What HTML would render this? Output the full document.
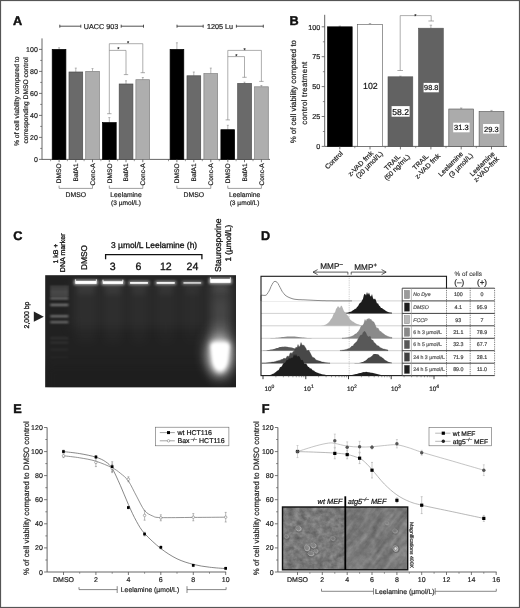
<!DOCTYPE html>
<html><head><meta charset="utf-8"><title>Figure</title>
<style>
html,body{margin:0;padding:0;background:#fff;}
body{width:520px;height:608px;overflow:hidden;}
svg{display:block;font-family:"Liberation Sans",sans-serif;text-rendering:geometricPrecision;}
</style></head><body>
<svg width="520" height="608" viewBox="0 0 520 608">
<defs>
<filter color-interpolation-filters="sRGB" id="b1" x="-20%" y="-100%" width="140%" height="300%"><feGaussianBlur color-interpolation-filters="sRGB" stdDeviation="0.7"/></filter>
<filter color-interpolation-filters="sRGB" id="b2" x="-50%" y="-50%" width="200%" height="200%"><feGaussianBlur color-interpolation-filters="sRGB" stdDeviation="2.5"/></filter>
<filter color-interpolation-filters="sRGB" id="b3" x="-50%" y="-50%" width="200%" height="200%"><feGaussianBlur color-interpolation-filters="sRGB" stdDeviation="5"/></filter>
<filter color-interpolation-filters="sRGB" id="b05" x="-20%" y="-100%" width="140%" height="300%"><feGaussianBlur color-interpolation-filters="sRGB" stdDeviation="0.45"/></filter>
<filter color-interpolation-filters="sRGB" id="b15" x="-30%" y="-300%" width="160%" height="700%"><feGaussianBlur color-interpolation-filters="sRGB" stdDeviation="1.5"/></filter>
<filter color-interpolation-filters="sRGB" id="b09" x="-20%" y="-200%" width="140%" height="500%"><feGaussianBlur color-interpolation-filters="sRGB" stdDeviation="0.9 0.8"/></filter>
<filter color-interpolation-filters="sRGB" id="b7" x="-100%" y="-100%" width="300%" height="300%"><feGaussianBlur color-interpolation-filters="sRGB" stdDeviation="7"/></filter>
<filter color-interpolation-filters="sRGB" id="soft" x="0" y="0" width="100%" height="100%"><feGaussianBlur color-interpolation-filters="sRGB" stdDeviation="0.35"/></filter>
<filter color-interpolation-filters="sRGB" id="tex" x="0" y="0" width="100%" height="100%">
<feTurbulence type="fractalNoise" baseFrequency="0.17 0.19" numOctaves="3" seed="4" result="n"/>
<feColorMatrix in="n" type="matrix" values="0.24 0.16 0 0 0.275  0.24 0.16 0 0 0.275  0.24 0.16 0 0 0.275  0 0 0 0 1"/>
<feComposite in2="SourceGraphic" operator="in"/>
</filter>
<filter color-interpolation-filters="sRGB" id="tex2" x="0" y="0" width="100%" height="100%">
<feTurbulence type="fractalNoise" baseFrequency="0.022 0.16" numOctaves="3" seed="11" result="n"/>
<feColorMatrix in="n" type="matrix" values="0.4 0.25 0 0 0.15  0.4 0.25 0 0 0.15  0.4 0.25 0 0 0.15  0 0 0 0 1"/>
<feComposite in2="SourceGraphic" operator="in"/>
</filter>
<clipPath id="insL"><rect x="282.5" y="507" width="62.7" height="62.8"/></clipPath>
<clipPath id="insR"><rect x="345.2" y="507" width="62.5" height="62.8"/></clipPath>
<clipPath id="gelclip"><rect x="45" y="275" width="191" height="112.5"/></clipPath>
<clipPath id="insclip"><rect x="282.5" y="507" width="125.2" height="62.8"/></clipPath>
</defs>
<rect x="0" y="0" width="520" height="608" fill="#fff"/>
<g filter="url(#soft)">
<text x="13.1" y="25.0" font-size="12.7" text-anchor="start" fill="#111" font-weight="bold" stroke="#111" stroke-width="0.45">A</text>
<line x1="42.0" y1="38.4" x2="42.0" y2="159.4" stroke="#555" stroke-width="0.9" />
<line x1="39.0" y1="159.4" x2="42.0" y2="159.4" stroke="#555" stroke-width="0.8" />
<text x="37.8" y="161.9" font-size="7" text-anchor="end" fill="#222" stroke="#222" stroke-width="0.2">0</text>
<line x1="39.0" y1="137.4" x2="42.0" y2="137.4" stroke="#555" stroke-width="0.8" />
<text x="37.8" y="139.9" font-size="7" text-anchor="end" fill="#222" stroke="#222" stroke-width="0.2">20</text>
<line x1="39.0" y1="115.4" x2="42.0" y2="115.4" stroke="#555" stroke-width="0.8" />
<text x="37.8" y="117.9" font-size="7" text-anchor="end" fill="#222" stroke="#222" stroke-width="0.2">40</text>
<line x1="39.0" y1="93.4" x2="42.0" y2="93.4" stroke="#555" stroke-width="0.8" />
<text x="37.8" y="95.9" font-size="7" text-anchor="end" fill="#222" stroke="#222" stroke-width="0.2">60</text>
<line x1="39.0" y1="71.4" x2="42.0" y2="71.4" stroke="#555" stroke-width="0.8" />
<text x="37.8" y="73.9" font-size="7" text-anchor="end" fill="#222" stroke="#222" stroke-width="0.2">80</text>
<line x1="39.0" y1="49.4" x2="42.0" y2="49.4" stroke="#555" stroke-width="0.8" />
<text x="37.8" y="51.9" font-size="7" text-anchor="end" fill="#222" stroke="#222" stroke-width="0.2">100</text>
<line x1="40.2" y1="148.4" x2="42.0" y2="148.4" stroke="#555" stroke-width="0.7" />
<line x1="40.2" y1="126.4" x2="42.0" y2="126.4" stroke="#555" stroke-width="0.7" />
<line x1="40.2" y1="104.4" x2="42.0" y2="104.4" stroke="#555" stroke-width="0.7" />
<line x1="40.2" y1="82.4" x2="42.0" y2="82.4" stroke="#555" stroke-width="0.7" />
<line x1="40.2" y1="60.4" x2="42.0" y2="60.4" stroke="#555" stroke-width="0.7" />
<line x1="42.0" y1="159.4" x2="270.0" y2="159.4" stroke="#555" stroke-width="0.9" />
<text x="18.7" y="101.3" font-size="6.8" text-anchor="middle" fill="#222" transform="rotate(-90 18.7 101.3)" stroke="#222" stroke-width="0.2">% of cell viability compared to</text>
<text x="27.5" y="100.5" font-size="6.7" text-anchor="middle" fill="#222" transform="rotate(-90 27.5 100.5)" stroke="#222" stroke-width="0.2">corresponding DMSO control</text>
<line x1="59.1" y1="49.4" x2="59.1" y2="47.8" stroke="#888" stroke-width="0.6" />
<line x1="58.1" y1="47.8" x2="60.1" y2="47.8" stroke="#888" stroke-width="0.6" />
<rect x="52.2" y="49.4" width="13.7" height="110.0" fill="#000" stroke="#000" stroke-width="0.7" />
<line x1="59.1" y1="159.4" x2="59.1" y2="162.2" stroke="#555" stroke-width="0.8" />
<text x="61.5" y="163.4" font-size="6.6" text-anchor="end" fill="#222" transform="rotate(-90 61.5 163.4)" stroke="#222" stroke-width="0.2">DMSO</text>
<line x1="75.8" y1="72.0" x2="75.8" y2="68.1" stroke="#888" stroke-width="0.6" />
<line x1="74.8" y1="68.1" x2="76.8" y2="68.1" stroke="#888" stroke-width="0.6" />
<rect x="69.0" y="72.0" width="13.7" height="87.5" fill="#6a6a6a" stroke="#4a4a4a" stroke-width="0.7" />
<line x1="75.8" y1="159.4" x2="75.8" y2="162.2" stroke="#555" stroke-width="0.8" />
<text x="78.2" y="163.4" font-size="6.6" text-anchor="end" fill="#222" transform="rotate(-90 78.2 163.4)" stroke="#222" stroke-width="0.2">BafA1</text>
<line x1="92.5" y1="71.4" x2="92.5" y2="68.6" stroke="#888" stroke-width="0.6" />
<line x1="91.5" y1="68.6" x2="93.5" y2="68.6" stroke="#888" stroke-width="0.6" />
<rect x="85.7" y="71.4" width="13.7" height="88.0" fill="#aeaeae" stroke="#808080" stroke-width="0.7" />
<line x1="92.5" y1="159.4" x2="92.5" y2="162.2" stroke="#555" stroke-width="0.8" />
<text x="95.0" y="163.4" font-size="6.6" text-anchor="end" fill="#222" transform="rotate(-90 95.0 163.4)" stroke="#222" stroke-width="0.2">Conc-A</text>
<line x1="109.3" y1="122.6" x2="109.3" y2="117.6" stroke="#888" stroke-width="0.6" />
<line x1="108.3" y1="117.6" x2="110.3" y2="117.6" stroke="#888" stroke-width="0.6" />
<rect x="102.5" y="122.6" width="13.7" height="36.8" fill="#000" stroke="#000" stroke-width="0.7" />
<line x1="109.3" y1="159.4" x2="109.3" y2="162.2" stroke="#555" stroke-width="0.8" />
<text x="111.7" y="163.4" font-size="6.6" text-anchor="end" fill="#222" transform="rotate(-90 111.7 163.4)" stroke="#222" stroke-width="0.2">DMSO</text>
<line x1="126.0" y1="84.0" x2="126.0" y2="80.8" stroke="#888" stroke-width="0.6" />
<line x1="125.0" y1="80.8" x2="127.0" y2="80.8" stroke="#888" stroke-width="0.6" />
<rect x="119.2" y="84.0" width="13.7" height="75.4" fill="#6a6a6a" stroke="#4a4a4a" stroke-width="0.7" />
<line x1="126.0" y1="159.4" x2="126.0" y2="162.2" stroke="#555" stroke-width="0.8" />
<text x="128.4" y="163.4" font-size="6.6" text-anchor="end" fill="#222" transform="rotate(-90 128.4 163.4)" stroke="#222" stroke-width="0.2">BafA1</text>
<line x1="142.8" y1="79.7" x2="142.8" y2="77.5" stroke="#888" stroke-width="0.6" />
<line x1="141.8" y1="77.5" x2="143.8" y2="77.5" stroke="#888" stroke-width="0.6" />
<rect x="135.9" y="79.7" width="13.7" height="79.8" fill="#aeaeae" stroke="#808080" stroke-width="0.7" />
<line x1="142.8" y1="159.4" x2="142.8" y2="162.2" stroke="#555" stroke-width="0.8" />
<text x="145.2" y="163.4" font-size="6.6" text-anchor="end" fill="#222" transform="rotate(-90 145.2 163.4)" stroke="#222" stroke-width="0.2">Conc-A</text>
<line x1="50.6" y1="159.4" x2="50.6" y2="161.2" stroke="#555" stroke-width="0.6" />
<line x1="67.4" y1="159.4" x2="67.4" y2="161.2" stroke="#555" stroke-width="0.6" />
<line x1="84.1" y1="159.4" x2="84.1" y2="161.2" stroke="#555" stroke-width="0.6" />
<line x1="100.9" y1="159.4" x2="100.9" y2="161.2" stroke="#555" stroke-width="0.6" />
<line x1="117.6" y1="159.4" x2="117.6" y2="161.2" stroke="#555" stroke-width="0.6" />
<line x1="134.3" y1="159.4" x2="134.3" y2="161.2" stroke="#555" stroke-width="0.6" />
<path d="M59.1 185.6 V188.4 H92.5 V185.6" stroke="#777" stroke-width="0.7" fill="none" />
<path d="M109.3 185.6 V188.4 H142.8 V185.6" stroke="#777" stroke-width="0.7" fill="none" />
<text x="75.8" y="197.0" font-size="6.8" text-anchor="middle" fill="#222" stroke="#222" stroke-width="0.2">DMSO</text>
<text x="126.0" y="197.0" font-size="6.8" text-anchor="middle" fill="#222" stroke="#222" stroke-width="0.2">Leelamine</text>
<text x="126.0" y="205.3" font-size="6.6" text-anchor="middle" fill="#222" stroke="#222" stroke-width="0.2">(3 µmol/L)</text>
<line x1="176.9" y1="49.4" x2="176.9" y2="42.8" stroke="#888" stroke-width="0.6" />
<line x1="175.9" y1="42.8" x2="177.9" y2="42.8" stroke="#888" stroke-width="0.6" />
<rect x="170.1" y="49.4" width="13.7" height="110.0" fill="#000" stroke="#000" stroke-width="0.7" />
<line x1="176.9" y1="159.4" x2="176.9" y2="162.2" stroke="#555" stroke-width="0.8" />
<text x="179.3" y="163.4" font-size="6.6" text-anchor="end" fill="#222" transform="rotate(-90 179.3 163.4)" stroke="#222" stroke-width="0.2">DMSO</text>
<line x1="193.8" y1="75.8" x2="193.8" y2="72.0" stroke="#888" stroke-width="0.6" />
<line x1="192.8" y1="72.0" x2="194.8" y2="72.0" stroke="#888" stroke-width="0.6" />
<rect x="187.0" y="75.8" width="13.7" height="83.6" fill="#6a6a6a" stroke="#4a4a4a" stroke-width="0.7" />
<line x1="193.8" y1="159.4" x2="193.8" y2="162.2" stroke="#555" stroke-width="0.8" />
<text x="196.2" y="163.4" font-size="6.6" text-anchor="end" fill="#222" transform="rotate(-90 196.2 163.4)" stroke="#222" stroke-width="0.2">BafA1</text>
<line x1="210.8" y1="73.6" x2="210.8" y2="68.1" stroke="#888" stroke-width="0.6" />
<line x1="209.8" y1="68.1" x2="211.8" y2="68.1" stroke="#888" stroke-width="0.6" />
<rect x="203.9" y="73.6" width="13.7" height="85.8" fill="#aeaeae" stroke="#808080" stroke-width="0.7" />
<line x1="210.8" y1="159.4" x2="210.8" y2="162.2" stroke="#555" stroke-width="0.8" />
<text x="213.2" y="163.4" font-size="6.6" text-anchor="end" fill="#222" transform="rotate(-90 213.2 163.4)" stroke="#222" stroke-width="0.2">Conc-A</text>
<line x1="227.8" y1="129.7" x2="227.8" y2="125.3" stroke="#888" stroke-width="0.6" />
<line x1="226.8" y1="125.3" x2="228.8" y2="125.3" stroke="#888" stroke-width="0.6" />
<rect x="220.9" y="129.7" width="13.7" height="29.7" fill="#000" stroke="#000" stroke-width="0.7" />
<line x1="227.8" y1="159.4" x2="227.8" y2="162.2" stroke="#555" stroke-width="0.8" />
<text x="230.2" y="163.4" font-size="6.6" text-anchor="end" fill="#222" transform="rotate(-90 230.2 163.4)" stroke="#222" stroke-width="0.2">DMSO</text>
<line x1="244.5" y1="83.5" x2="244.5" y2="82.2" stroke="#888" stroke-width="0.6" />
<line x1="243.5" y1="82.2" x2="245.5" y2="82.2" stroke="#888" stroke-width="0.6" />
<rect x="237.7" y="83.5" width="13.7" height="75.9" fill="#6a6a6a" stroke="#4a4a4a" stroke-width="0.7" />
<line x1="244.5" y1="159.4" x2="244.5" y2="162.2" stroke="#555" stroke-width="0.8" />
<text x="246.9" y="163.4" font-size="6.6" text-anchor="end" fill="#222" transform="rotate(-90 246.9 163.4)" stroke="#222" stroke-width="0.2">BafA1</text>
<line x1="261.4" y1="86.8" x2="261.4" y2="85.5" stroke="#888" stroke-width="0.6" />
<line x1="260.4" y1="85.5" x2="262.4" y2="85.5" stroke="#888" stroke-width="0.6" />
<rect x="254.6" y="86.8" width="13.7" height="72.6" fill="#aeaeae" stroke="#808080" stroke-width="0.7" />
<line x1="261.4" y1="159.4" x2="261.4" y2="162.2" stroke="#555" stroke-width="0.8" />
<text x="263.8" y="163.4" font-size="6.6" text-anchor="end" fill="#222" transform="rotate(-90 263.8 163.4)" stroke="#222" stroke-width="0.2">Conc-A</text>
<line x1="168.5" y1="159.4" x2="168.5" y2="161.2" stroke="#555" stroke-width="0.6" />
<line x1="185.4" y1="159.4" x2="185.4" y2="161.2" stroke="#555" stroke-width="0.6" />
<line x1="202.3" y1="159.4" x2="202.3" y2="161.2" stroke="#555" stroke-width="0.6" />
<line x1="219.3" y1="159.4" x2="219.3" y2="161.2" stroke="#555" stroke-width="0.6" />
<line x1="236.1" y1="159.4" x2="236.1" y2="161.2" stroke="#555" stroke-width="0.6" />
<line x1="253.0" y1="159.4" x2="253.0" y2="161.2" stroke="#555" stroke-width="0.6" />
<path d="M176.9 185.6 V188.4 H210.8 V185.6" stroke="#777" stroke-width="0.7" fill="none" />
<path d="M227.8 185.6 V188.4 H261.4 V185.6" stroke="#777" stroke-width="0.7" fill="none" />
<text x="193.8" y="197.0" font-size="6.8" text-anchor="middle" fill="#222" stroke="#222" stroke-width="0.2">DMSO</text>
<text x="244.6" y="197.0" font-size="6.8" text-anchor="middle" fill="#222" stroke="#222" stroke-width="0.2">Leelamine</text>
<text x="244.6" y="205.3" font-size="6.6" text-anchor="middle" fill="#222" stroke="#222" stroke-width="0.2">(3 µmol/L)</text>
<path d="M109.3 113.7 V43.7 H142.8 V72.7" stroke="#777" stroke-width="0.6" fill="none" />
<line x1="107.1" y1="113.7" x2="111.5" y2="113.7" stroke="#777" stroke-width="0.6" />
<line x1="140.6" y1="72.7" x2="145.0" y2="72.7" stroke="#777" stroke-width="0.6" />
<path d="M109.3 50.4 H126.0 V74.6" stroke="#777" stroke-width="0.6" fill="none" />
<line x1="123.8" y1="74.6" x2="128.2" y2="74.6" stroke="#777" stroke-width="0.6" />
<text x="118.4" y="51.4" font-size="5.6" text-anchor="middle" fill="#222" stroke="#222" stroke-width="0.2">*</text>
<text x="128.0" y="44.8" font-size="5.6" text-anchor="middle" fill="#222" stroke="#222" stroke-width="0.2">*</text>
<path d="M227.8 119.9 V50.4 H261.4 V81.4" stroke="#777" stroke-width="0.6" fill="none" />
<line x1="225.6" y1="119.9" x2="229.9" y2="119.9" stroke="#777" stroke-width="0.6" />
<line x1="259.2" y1="81.4" x2="263.6" y2="81.4" stroke="#777" stroke-width="0.6" />
<path d="M227.8 56.6 H244.5 V77.3" stroke="#777" stroke-width="0.6" fill="none" />
<line x1="242.3" y1="77.3" x2="246.7" y2="77.3" stroke="#777" stroke-width="0.6" />
<text x="236.4" y="57.6" font-size="5.6" text-anchor="middle" fill="#222" stroke="#222" stroke-width="0.2">*</text>
<text x="244.6" y="51.6" font-size="5.6" text-anchor="middle" fill="#222" stroke="#222" stroke-width="0.2">*</text>
<path d="M59.8 24.7 V27.7 M59.8 26.2 H80.8 M80.8 24.7 V27.7" stroke="#333" stroke-width="0.85" fill="none" />
<path d="M121.2 24.7 V27.7 M121.2 26.2 H143.5 M143.5 24.7 V27.7" stroke="#333" stroke-width="0.85" fill="none" />
<text x="101.0" y="28.7" font-size="7.2" text-anchor="middle" fill="#222" stroke="#222" stroke-width="0.2">UACC 903</text>
<path d="M177 24.7 V27.7 M177 26.2 H203.2 M203.2 24.7 V27.7" stroke="#333" stroke-width="0.85" fill="none" />
<path d="M236.4 24.7 V27.7 M236.4 26.2 H263.3 M263.3 24.7 V27.7" stroke="#333" stroke-width="0.85" fill="none" />
<text x="220.0" y="28.7" font-size="7.2" text-anchor="middle" fill="#222" stroke="#222" stroke-width="0.2">1205 Lu</text>
<text x="289.6" y="24.8" font-size="12.7" text-anchor="start" fill="#111" font-weight="bold" stroke="#111" stroke-width="0.45">B</text>
<line x1="324.7" y1="14.8" x2="324.7" y2="146.4" stroke="#555" stroke-width="0.9" />
<line x1="321.7" y1="146.4" x2="324.7" y2="146.4" stroke="#555" stroke-width="0.8" />
<text x="320.2" y="149.1" font-size="7.2" text-anchor="end" fill="#222" stroke="#222" stroke-width="0.2">0</text>
<line x1="321.7" y1="116.5" x2="324.7" y2="116.5" stroke="#555" stroke-width="0.8" />
<text x="320.2" y="119.2" font-size="7.2" text-anchor="end" fill="#222" stroke="#222" stroke-width="0.2">25</text>
<line x1="321.7" y1="86.6" x2="324.7" y2="86.6" stroke="#555" stroke-width="0.8" />
<text x="320.2" y="89.3" font-size="7.2" text-anchor="end" fill="#222" stroke="#222" stroke-width="0.2">50</text>
<line x1="321.7" y1="56.7" x2="324.7" y2="56.7" stroke="#555" stroke-width="0.8" />
<text x="320.2" y="59.4" font-size="7.2" text-anchor="end" fill="#222" stroke="#222" stroke-width="0.2">75</text>
<line x1="321.7" y1="26.8" x2="324.7" y2="26.8" stroke="#555" stroke-width="0.8" />
<text x="320.2" y="29.5" font-size="7.2" text-anchor="end" fill="#222" stroke="#222" stroke-width="0.2">100</text>
<line x1="322.9" y1="131.5" x2="324.7" y2="131.5" stroke="#555" stroke-width="0.7" />
<line x1="322.9" y1="101.6" x2="324.7" y2="101.6" stroke="#555" stroke-width="0.7" />
<line x1="322.9" y1="71.7" x2="324.7" y2="71.7" stroke="#555" stroke-width="0.7" />
<line x1="322.9" y1="41.8" x2="324.7" y2="41.8" stroke="#555" stroke-width="0.7" />
<line x1="324.7" y1="146.4" x2="507.0" y2="146.4" stroke="#555" stroke-width="0.9" />
<text x="296.4" y="91.7" font-size="7.85" text-anchor="middle" fill="#222" transform="rotate(-90 296.4 91.7)" stroke="#222" stroke-width="0.2">% of cell viability compared to</text>
<text x="307.0" y="93.1" font-size="7.85" text-anchor="middle" fill="#222" transform="rotate(-90 307.0 93.1)" letter-spacing="0.25" stroke="#222" stroke-width="0.2">control treatment</text>
<line x1="339.8" y1="26.8" x2="339.8" y2="26.1" stroke="#888" stroke-width="0.6" />
<line x1="338.6" y1="26.1" x2="341.0" y2="26.1" stroke="#888" stroke-width="0.6" />
<rect x="327.4" y="26.8" width="24.8" height="119.6" fill="#000" stroke="#000" stroke-width="0.6" />
<line x1="339.8" y1="146.4" x2="339.8" y2="149.4" stroke="#555" stroke-width="0.8" />
<text x="343.4" y="153.9" font-size="6.9" text-anchor="end" fill="#222" transform="rotate(-45 343.4 153.9)" stroke="#222" stroke-width="0.2">Control</text>
<line x1="370.0" y1="24.4" x2="370.0" y2="23.5" stroke="#888" stroke-width="0.6" />
<line x1="368.8" y1="23.5" x2="371.2" y2="23.5" stroke="#888" stroke-width="0.6" />
<rect x="357.6" y="24.4" width="24.8" height="122.0" fill="#fff" stroke="#555" stroke-width="0.6" />
<line x1="370.0" y1="146.4" x2="370.0" y2="149.4" stroke="#555" stroke-width="0.8" />
<text x="373.6" y="153.9" font-size="6.9" text-anchor="end" fill="#222" transform="rotate(-45 373.6 153.9)" stroke="#222" stroke-width="0.2">z-VAD fmk</text>
<text x="383.3" y="154.0" font-size="6.9" text-anchor="end" fill="#222" transform="rotate(-45 383.3 154.0)" stroke="#222" stroke-width="0.2">(20 µmol/L)</text>
<line x1="354.8" y1="146.4" x2="354.8" y2="148.2" stroke="#555" stroke-width="0.6" />
<line x1="400.4" y1="76.8" x2="400.4" y2="76.2" stroke="#888" stroke-width="0.6" />
<line x1="399.2" y1="76.2" x2="401.6" y2="76.2" stroke="#888" stroke-width="0.6" />
<rect x="388.0" y="76.8" width="24.8" height="69.6" fill="#626262" stroke="#555" stroke-width="0.6" />
<line x1="400.4" y1="146.4" x2="400.4" y2="149.4" stroke="#555" stroke-width="0.8" />
<text x="400.8" y="157.1" font-size="6.9" text-anchor="end" fill="#222" transform="rotate(-45 400.8 157.1)" stroke="#222" stroke-width="0.2">TRAIL</text>
<text x="410.5" y="157.2" font-size="6.9" text-anchor="end" fill="#222" transform="rotate(-45 410.5 157.2)" stroke="#222" stroke-width="0.2">(50 ng/mL)</text>
<line x1="385.2" y1="146.4" x2="385.2" y2="148.2" stroke="#555" stroke-width="0.6" />
<line x1="430.9" y1="28.2" x2="430.9" y2="25.2" stroke="#888" stroke-width="0.6" />
<line x1="429.7" y1="25.2" x2="432.1" y2="25.2" stroke="#888" stroke-width="0.6" />
<rect x="418.5" y="28.2" width="24.8" height="118.2" fill="#626262" stroke="#555" stroke-width="0.6" />
<line x1="430.9" y1="146.4" x2="430.9" y2="149.4" stroke="#555" stroke-width="0.8" />
<text x="429.1" y="156.7" font-size="6.9" text-anchor="end" fill="#222" transform="rotate(-45 429.1 156.7)" stroke="#222" stroke-width="0.2">TRAIL</text>
<text x="440.7" y="156.2" font-size="6.9" text-anchor="end" fill="#222" transform="rotate(-45 440.7 156.2)" stroke="#222" stroke-width="0.2">z-VAD fmk</text>
<line x1="415.7" y1="146.4" x2="415.7" y2="148.2" stroke="#555" stroke-width="0.6" />
<line x1="461.2" y1="109.0" x2="461.2" y2="108.0" stroke="#888" stroke-width="0.6" />
<line x1="460.0" y1="108.0" x2="462.4" y2="108.0" stroke="#888" stroke-width="0.6" />
<rect x="448.8" y="109.0" width="24.8" height="37.4" fill="#ababab" stroke="#555" stroke-width="0.6" />
<line x1="461.2" y1="146.4" x2="461.2" y2="149.4" stroke="#555" stroke-width="0.8" />
<text x="463.5" y="154.4" font-size="6.9" text-anchor="end" fill="#222" transform="rotate(-45 463.5 154.4)" stroke="#222" stroke-width="0.2">Leelamine</text>
<text x="473.5" y="155.9" font-size="6.9" text-anchor="end" fill="#222" transform="rotate(-45 473.5 155.9)" stroke="#222" stroke-width="0.2">(3 µmol/L)</text>
<line x1="446.0" y1="146.4" x2="446.0" y2="148.2" stroke="#555" stroke-width="0.6" />
<line x1="491.5" y1="111.4" x2="491.5" y2="110.4" stroke="#888" stroke-width="0.6" />
<line x1="490.3" y1="110.4" x2="492.7" y2="110.4" stroke="#888" stroke-width="0.6" />
<rect x="479.1" y="111.4" width="24.8" height="35.0" fill="#ababab" stroke="#555" stroke-width="0.6" />
<line x1="491.5" y1="146.4" x2="491.5" y2="149.4" stroke="#555" stroke-width="0.8" />
<text x="495.1" y="154.3" font-size="6.9" text-anchor="end" fill="#222" transform="rotate(-45 495.1 154.3)" stroke="#222" stroke-width="0.2">Leelamine</text>
<text x="499.4" y="159.4" font-size="6.9" text-anchor="end" fill="#222" transform="rotate(-45 499.4 159.4)" stroke="#222" stroke-width="0.2">z-VAD-fmk</text>
<line x1="476.3" y1="146.4" x2="476.3" y2="148.2" stroke="#555" stroke-width="0.6" />
<text x="370.4" y="88.6" font-size="8.8" text-anchor="middle" fill="#111" stroke="#111" stroke-width="0.2">102</text>
<rect x="391.6" y="106.1" width="18.0" height="10.6" fill="#fff" stroke="none" stroke-width="0.6" />
<text x="400.6" y="114.5" font-size="8.6" text-anchor="middle" fill="#111" stroke="#111" stroke-width="0.2">58.2</text>
<rect x="423.6" y="82.9" width="15.2" height="9.4" fill="#fff" stroke="none" stroke-width="0.6" />
<text x="431.2" y="90.2" font-size="7.3" text-anchor="middle" fill="#111" stroke="#111" stroke-width="0.2">98.8</text>
<rect x="453.2" y="122.7" width="16.4" height="9.6" fill="#fff" stroke="none" stroke-width="0.6" />
<text x="461.4" y="130.2" font-size="7.5" text-anchor="middle" fill="#111" stroke="#111" stroke-width="0.2">31.3</text>
<rect x="483.1" y="124.0" width="16.4" height="9.6" fill="#fff" stroke="none" stroke-width="0.6" />
<text x="491.3" y="131.5" font-size="7.5" text-anchor="middle" fill="#111" stroke="#111" stroke-width="0.2">29.3</text>
<path d="M400.2 70.5 V15.6 H431.2 V21" stroke="#777" stroke-width="0.6" fill="none" />
<line x1="397.4" y1="70.5" x2="403.0" y2="70.5" stroke="#777" stroke-width="0.6" />
<line x1="428.4" y1="21.0" x2="434.0" y2="21.0" stroke="#777" stroke-width="0.6" />
<text x="415.3" y="17.6" font-size="5.6" text-anchor="middle" fill="#222" stroke="#222" stroke-width="0.2">*</text>
<text x="13.2" y="239.7" font-size="12.7" text-anchor="start" fill="#111" font-weight="bold" stroke="#111" stroke-width="0.45">C</text>
<text x="58.0" y="253.5" font-size="6.9" text-anchor="middle" fill="#111" transform="rotate(-90 58.0 253.5)" stroke="#111" stroke-width="0.3">1 kB +</text>
<text x="65.0" y="252.8" font-size="7.1" text-anchor="middle" fill="#111" transform="rotate(-90 65.0 252.8)" stroke="#111" stroke-width="0.3">DNA marker</text>
<text x="87.0" y="270.0" font-size="8.3" text-anchor="start" fill="#111" transform="rotate(-90 87.0 270.0)" stroke="#111" stroke-width="0.3">DMSO</text>
<text x="111.0" y="248.2" font-size="8.45" text-anchor="start" fill="#111" stroke="#111" stroke-width="0.3">3 µmol/L Leelamine (h)</text>
<path d="M105.6 259.2 V254.7 H201.9 V259.2" stroke="#111" stroke-width="1.3" fill="none" />
<text x="112.6" y="270.2" font-size="10.6" text-anchor="middle" fill="#111" stroke="#111" stroke-width="0.3">3</text>
<text x="138.4" y="270.2" font-size="10.6" text-anchor="middle" fill="#111" stroke="#111" stroke-width="0.3">6</text>
<text x="165.8" y="270.2" font-size="10.6" text-anchor="middle" fill="#111" stroke="#111" stroke-width="0.3">12</text>
<text x="192.5" y="270.2" font-size="10.6" text-anchor="middle" fill="#111" stroke="#111" stroke-width="0.3">24</text>
<text x="221.2" y="272.0" font-size="8.6" text-anchor="start" fill="#111" transform="rotate(-90 221.2 272.0)" stroke="#111" stroke-width="0.3">Staurosporine</text>
<text x="231.2" y="261.5" font-size="8.15" text-anchor="start" fill="#111" transform="rotate(-90 231.2 261.5)" stroke="#111" stroke-width="0.3">1 (µmol/L)</text>
<text x="28.9" y="315.0" font-size="6.9" text-anchor="middle" fill="#111" transform="rotate(-90 28.9 315.0)" stroke="#111" stroke-width="0.3">2,000 bp</text>
<path d="M33.8 311.6 L43.8 316.7 L33.8 321.8 Z" stroke="none" stroke-width="0" fill="#222" />
<g clip-path="url(#gelclip)">
<rect x="45.2" y="275.2" width="191.0" height="112.2" fill="#212121" stroke="none" stroke-width="0.6" />
<rect x="70.2" y="278.2" width="166.0" height="50.0" fill="#2c2c2c" stroke="none" stroke-width="0.6" opacity="0.8" filter="url(#b3)"/>
<rect x="45.2" y="365.0" width="191.0" height="40.0" fill="#1c1c1c" stroke="none" stroke-width="0.6" opacity="0.4" filter="url(#b3)"/>
<rect x="76.3" y="282.4" width="19.3" height="60.0" fill="#fff" stroke="none" stroke-width="0.6" opacity="0.022" filter="url(#b3)"/>
<rect x="77.3" y="282.4" width="17.3" height="12.0" fill="#fff" stroke="none" stroke-width="0.6" opacity="0.050" filter="url(#b2)"/>
<rect x="103.8" y="282.6" width="18.2" height="60.0" fill="#fff" stroke="none" stroke-width="0.6" opacity="0.022" filter="url(#b3)"/>
<rect x="104.8" y="282.6" width="16.2" height="12.0" fill="#fff" stroke="none" stroke-width="0.6" opacity="0.050" filter="url(#b2)"/>
<rect x="131.0" y="282.9" width="16.0" height="60.0" fill="#fff" stroke="none" stroke-width="0.6" opacity="0.018" filter="url(#b3)"/>
<rect x="132.0" y="282.9" width="14.0" height="12.0" fill="#fff" stroke="none" stroke-width="0.6" opacity="0.040" filter="url(#b2)"/>
<rect x="157.6" y="282.9" width="16.2" height="60.0" fill="#fff" stroke="none" stroke-width="0.6" opacity="0.017" filter="url(#b3)"/>
<rect x="158.6" y="282.9" width="14.2" height="12.0" fill="#fff" stroke="none" stroke-width="0.6" opacity="0.039" filter="url(#b2)"/>
<rect x="184.3" y="282.9" width="15.9" height="60.0" fill="#fff" stroke="none" stroke-width="0.6" opacity="0.012" filter="url(#b3)"/>
<rect x="185.3" y="282.9" width="13.9" height="12.0" fill="#fff" stroke="none" stroke-width="0.6" opacity="0.028" filter="url(#b2)"/>
<rect x="211.3" y="280.9" width="18.3" height="60.0" fill="#fff" stroke="none" stroke-width="0.6" opacity="0.022" filter="url(#b3)"/>
<rect x="212.3" y="280.9" width="16.3" height="12.0" fill="#fff" stroke="none" stroke-width="0.6" opacity="0.050" filter="url(#b2)"/>
<rect x="210.0" y="283.0" width="21.0" height="100.0" fill="#fff" stroke="none" stroke-width="0.6" opacity="0.07" filter="url(#b3)"/>
<rect x="213.0" y="300.0" width="15.0" height="60.0" fill="#fff" stroke="none" stroke-width="0.6" opacity="0.05" filter="url(#b3)"/>
<rect x="74.0" y="280.1" width="23.9" height="4.5" fill="#fff" stroke="none" stroke-width="0.6" opacity="0.70" filter="url(#b15)"/>
<rect x="75.3" y="281.1" width="21.3" height="2.7" fill="#fff" stroke="none" stroke-width="0.6" opacity="1.00" filter="url(#b05)"/>
<rect x="75.9" y="281.3" width="20.1" height="2.1" fill="#fff" stroke="none" stroke-width="0.6" opacity="1.00" filter="url(#b05)"/>
<rect x="101.5" y="280.5" width="22.8" height="4.2" fill="#fff" stroke="none" stroke-width="0.6" opacity="0.70" filter="url(#b15)"/>
<rect x="102.8" y="281.4" width="20.2" height="2.4" fill="#fff" stroke="none" stroke-width="0.6" opacity="1.00" filter="url(#b05)"/>
<rect x="103.4" y="281.7" width="19.0" height="1.8" fill="#fff" stroke="none" stroke-width="0.6" opacity="1.00" filter="url(#b05)"/>
<rect x="128.7" y="281.1" width="20.6" height="3.6" fill="#fff" stroke="none" stroke-width="0.6" opacity="0.56" filter="url(#b15)"/>
<rect x="130.0" y="282.0" width="18.0" height="1.8" fill="#fff" stroke="none" stroke-width="0.6" opacity="0.80" filter="url(#b05)"/>
<rect x="130.6" y="282.3" width="16.8" height="1.2" fill="#fff" stroke="none" stroke-width="0.6" opacity="0.80" filter="url(#b05)"/>
<rect x="155.3" y="281.1" width="20.8" height="3.6" fill="#fff" stroke="none" stroke-width="0.6" opacity="0.55" filter="url(#b15)"/>
<rect x="156.6" y="282.0" width="18.2" height="1.8" fill="#fff" stroke="none" stroke-width="0.6" opacity="0.78" filter="url(#b05)"/>
<rect x="157.2" y="282.3" width="17.0" height="1.2" fill="#fff" stroke="none" stroke-width="0.6" opacity="0.78" filter="url(#b05)"/>
<rect x="182.0" y="281.2" width="20.5" height="3.4" fill="#fff" stroke="none" stroke-width="0.6" opacity="0.39" filter="url(#b15)"/>
<rect x="183.3" y="282.1" width="17.9" height="1.6" fill="#fff" stroke="none" stroke-width="0.6" opacity="0.55" filter="url(#b05)"/>
<rect x="183.9" y="282.4" width="16.7" height="1.0" fill="#fff" stroke="none" stroke-width="0.6" opacity="0.55" filter="url(#b05)"/>
<rect x="209.0" y="278.2" width="22.9" height="5.4" fill="#fff" stroke="none" stroke-width="0.6" opacity="0.70" filter="url(#b15)"/>
<rect x="210.3" y="279.1" width="20.3" height="3.6" fill="#fff" stroke="none" stroke-width="0.6" opacity="1.00" filter="url(#b05)"/>
<rect x="210.9" y="279.4" width="19.1" height="3.0" fill="#fff" stroke="none" stroke-width="0.6" opacity="1.00" filter="url(#b05)"/>
<rect x="50.0" y="285.5" width="19.0" height="10.5" fill="#fff" stroke="none" stroke-width="0.6" opacity="0.03" filter="url(#b1)"/>
<rect x="50.3" y="286.0" width="18.0" height="1.4" fill="#fff" stroke="none" stroke-width="0.6" opacity="0.20" filter="url(#b09)"/>
<rect x="50.3" y="288.9" width="18.0" height="1.4" fill="#fff" stroke="none" stroke-width="0.6" opacity="0.25" filter="url(#b09)"/>
<rect x="50.3" y="291.7" width="18.0" height="1.4" fill="#fff" stroke="none" stroke-width="0.6" opacity="0.31" filter="url(#b09)"/>
<rect x="50.3" y="294.6" width="18.0" height="1.4" fill="#fff" stroke="none" stroke-width="0.6" opacity="0.28" filter="url(#b09)"/>
<rect x="50.3" y="297.7" width="18.0" height="1.4" fill="#fff" stroke="none" stroke-width="0.6" opacity="0.53" filter="url(#b09)"/>
<rect x="50.3" y="304.2" width="18.0" height="1.4" fill="#fff" stroke="none" stroke-width="0.6" opacity="0.62" filter="url(#b09)"/>
<rect x="50.3" y="315.6" width="18.0" height="1.4" fill="#fff" stroke="none" stroke-width="0.6" opacity="0.58" filter="url(#b09)"/>
<rect x="50.3" y="321.5" width="18.0" height="1.4" fill="#fff" stroke="none" stroke-width="0.6" opacity="0.53" filter="url(#b09)"/>
<rect x="50.3" y="337.5" width="18.0" height="1.4" fill="#fff" stroke="none" stroke-width="0.6" opacity="0.11" filter="url(#b09)"/>
<rect x="50.3" y="341.9" width="18.0" height="1.4" fill="#fff" stroke="none" stroke-width="0.6" opacity="0.10" filter="url(#b09)"/>
<rect x="50.3" y="348.9" width="18.0" height="1.4" fill="#fff" stroke="none" stroke-width="0.6" opacity="0.06" filter="url(#b09)"/>
<rect x="50.3" y="356.6" width="18.0" height="1.4" fill="#fff" stroke="none" stroke-width="0.6" opacity="0.04" filter="url(#b09)"/>
<ellipse cx="219.6" cy="352" rx="14" ry="25" fill="#fff" opacity="0.36" filter="url(#b7)"/>
<ellipse cx="219.7" cy="356" rx="12.5" ry="19" fill="#fff" opacity="0.5" filter="url(#b3)"/>
<path d="M210.4 346 Q210.4 341.6 214.8 341.6 H225.4 Q229.8 341.6 229.8 346 L227.8 363 Q225.6 372.5 220.1 372.5 Q214.6 372.5 212.4 363 Z" fill="#fff" filter="url(#b2)"/>
<path d="M211.6 346.6 Q211.6 343.8 214.6 343.8 H225.6 Q228.6 343.8 228.6 346.6 L226.8 361 Q224.8 369 220.1 369 Q215.4 369 213.4 361 Z" fill="#fff" filter="url(#b15)"/>
<rect x="74.9" y="279.3" width="1.2" height="2.0" fill="#fff" stroke="none" stroke-width="0.6" opacity="0.70" filter="url(#b05)"/>
<rect x="95.8" y="279.3" width="1.2" height="2.0" fill="#fff" stroke="none" stroke-width="0.6" opacity="0.70" filter="url(#b05)"/>
<rect x="102.4" y="279.7" width="1.2" height="2.0" fill="#fff" stroke="none" stroke-width="0.6" opacity="0.70" filter="url(#b05)"/>
<rect x="122.2" y="279.7" width="1.2" height="2.0" fill="#fff" stroke="none" stroke-width="0.6" opacity="0.70" filter="url(#b05)"/>
<rect x="209.9" y="277.4" width="1.2" height="2.0" fill="#fff" stroke="none" stroke-width="0.6" opacity="0.70" filter="url(#b05)"/>
<rect x="229.8" y="277.4" width="1.2" height="2.0" fill="#fff" stroke="none" stroke-width="0.6" opacity="0.70" filter="url(#b05)"/>
</g>
<text x="260.9" y="239.7" font-size="12.7" text-anchor="start" fill="#111" font-weight="bold" stroke="#111" stroke-width="0.45">D</text>
<rect x="261.0" y="276.3" width="185.5" height="99.3" fill="#fff" stroke="none" stroke-width="0.6" />
<line x1="261.0" y1="300.9" x2="446.5" y2="300.9" stroke="#999" stroke-width="0.45" />
<line x1="261.0" y1="313.4" x2="446.5" y2="313.4" stroke="#999" stroke-width="0.45" />
<line x1="261.0" y1="325.8" x2="446.5" y2="325.8" stroke="#999" stroke-width="0.45" />
<line x1="261.0" y1="338.3" x2="446.5" y2="338.3" stroke="#999" stroke-width="0.45" />
<line x1="261.0" y1="350.7" x2="446.5" y2="350.7" stroke="#999" stroke-width="0.45" />
<line x1="261.0" y1="363.2" x2="446.5" y2="363.2" stroke="#999" stroke-width="0.45" />
<line x1="349.2" y1="276.3" x2="349.2" y2="375.6" stroke="#999" stroke-width="0.6" stroke-dasharray="0.8 1"/>
<path d="M261.0 300.9 L261.0 295.3 L262.0 295.2 L263.0 295.3 L264.0 295.4 L265.0 295.4 L266.0 295.2 L267.0 294.3 L268.0 292.7 L269.0 291.1 L270.0 289.1 L271.0 286.5 L272.0 284.7 L273.0 282.7 L274.0 281.8 L275.0 281.2 L276.0 281.7 L277.0 282.2 L278.0 283.5 L279.0 285.4 L280.0 287.3 L281.0 289.2 L282.0 291.2 L283.0 292.5 L284.0 293.8 L285.0 295.0 L286.0 295.8 L287.0 296.4 L288.0 297.0 L289.0 297.4 L290.0 297.9 L291.0 298.2 L292.0 298.6 L293.0 298.9 L294.0 299.1 L295.0 299.3 L296.0 299.4 L297.0 299.5 L298.0 299.6 L299.0 299.7 L300.0 299.7 L301.0 299.7 L302.0 299.8 L303.0 299.8 L304.0 299.8 L305.0 299.9 L306.0 299.9 L307.0 300.0 L308.0 300.0 L309.0 300.1 L310.0 300.1 L311.0 300.2 L312.0 300.2 L313.0 300.3 L314.0 300.3 L315.0 300.4 L316.0 300.4 L317.0 300.5 L318.0 300.5 L319.0 300.5 L320.0 300.6 L321.0 300.6 L322.0 300.7 L323.0 300.7 L324.0 300.7 L325.0 300.7 L326.0 300.8 L327.0 300.8 L328.0 300.8 L329.0 300.8 L330.0 300.8 L331.0 300.8 L332.0 300.8 L333.0 300.9 L334.0 300.9 L335.0 300.9 L336.0 300.9 L337.0 300.9 L338.0 300.9 L339.0 300.9 L340.0 300.9 L341.0 300.9 L342.0 300.9 L343.0 300.9 L344.0 300.9 L345.0 300.9 L346.0 300.9 L347.0 300.9 L348.0 300.9 L349.0 300.9 L350.0 300.9 L351.0 300.9 L352.0 300.9 L352.0 300.9" stroke="#8c8c8c" stroke-width="1.0" fill="#fff" stroke-linejoin="round"/>
<path d="M345.0 313.4 L345.0 313.0 L346.0 312.8 L347.0 312.7 L348.0 312.4 L349.0 312.2 L350.0 311.8 L351.0 311.8 L352.0 311.1 L353.0 310.3 L354.0 309.8 L355.0 308.7 L356.0 308.7 L357.0 307.1 L358.0 306.3 L359.0 304.3 L360.0 302.7 L361.0 302.6 L362.0 300.5 L363.0 298.7 L364.0 294.6 L365.0 293.8 L366.0 295.6 L367.0 291.9 L368.0 294.8 L369.0 292.6 L370.0 295.5 L371.0 296.8 L372.0 294.1 L373.0 298.2 L374.0 299.5 L375.0 298.5 L376.0 300.4 L377.0 303.4 L378.0 303.2 L379.0 305.4 L380.0 306.2 L381.0 307.9 L382.0 307.9 L383.0 309.0 L384.0 309.5 L385.0 310.2 L386.0 311.1 L387.0 311.5 L388.0 311.9 L389.0 312.2 L390.0 312.5 L391.0 312.6 L392.0 312.8 L392.0 313.4 Z" stroke="none" stroke-width="0.5" fill="#1c1c1c" stroke-linejoin="round"/>
<path d="M316.0 325.8 L316.0 325.8 L317.0 325.8 L318.0 325.8 L319.0 325.8 L320.0 325.7 L321.0 325.7 L322.0 325.6 L323.0 325.4 L324.0 325.2 L325.0 324.8 L326.0 324.5 L327.0 323.7 L328.0 322.9 L329.0 322.0 L330.0 320.7 L331.0 319.0 L332.0 318.0 L333.0 315.5 L334.0 312.9 L335.0 312.4 L336.0 309.0 L337.0 307.8 L338.0 306.0 L339.0 307.2 L340.0 308.0 L341.0 305.5 L342.0 306.3 L343.0 308.7 L344.0 311.2 L345.0 312.3 L346.0 312.8 L347.0 315.2 L348.0 315.5 L349.0 317.6 L350.0 319.4 L351.0 320.0 L352.0 321.2 L353.0 321.5 L354.0 322.3 L355.0 323.1 L356.0 323.5 L357.0 323.9 L358.0 324.2 L359.0 324.5 L360.0 324.9 L361.0 325.1 L362.0 325.2 L362.0 325.8 Z" stroke="none" stroke-width="0.5" fill="#b4b4b4" stroke-linejoin="round"/>
<path d="M342.0 338.3 L342.0 338.1 L343.0 338.1 L344.0 338.0 L345.0 337.9 L346.0 337.8 L347.0 337.7 L348.0 337.4 L349.0 337.3 L350.0 336.9 L351.0 336.6 L352.0 336.2 L353.0 335.7 L354.0 335.3 L355.0 334.1 L356.0 333.9 L357.0 332.8 L358.0 332.1 L359.0 330.5 L360.0 328.9 L361.0 326.3 L362.0 325.9 L363.0 325.1 L364.0 323.3 L365.0 319.5 L366.0 321.7 L367.0 318.9 L368.0 319.4 L369.0 318.2 L370.0 319.8 L371.0 319.2 L372.0 320.9 L373.0 321.6 L374.0 322.2 L375.0 324.5 L376.0 327.0 L377.0 328.4 L378.0 327.9 L379.0 330.0 L380.0 331.5 L381.0 331.5 L382.0 332.8 L383.0 333.5 L384.0 334.1 L385.0 335.1 L386.0 335.6 L387.0 335.9 L388.0 336.6 L389.0 336.7 L390.0 337.2 L391.0 337.3 L392.0 337.5 L392.0 338.3 Z" stroke="#666" stroke-width="0.3" fill="#8a8a8a" stroke-linejoin="round"/>
<path d="M268.0 338.3 L268.0 338.2 L269.0 338.2 L270.0 338.2 L271.0 338.1 L272.0 338.1 L273.0 338.0 L274.0 338.0 L275.0 337.9 L276.0 337.8 L277.0 337.7 L278.0 337.7 L279.0 337.5 L280.0 337.4 L281.0 337.3 L282.0 337.1 L283.0 337.1 L284.0 336.9 L285.0 336.8 L286.0 336.7 L287.0 336.5 L288.0 336.5 L289.0 336.4 L290.0 336.4 L291.0 336.4 L292.0 336.5 L293.0 336.5 L294.0 336.5 L295.0 336.5 L296.0 336.7 L297.0 336.8 L298.0 336.9 L299.0 337.1 L300.0 337.2 L301.0 337.2 L302.0 337.4 L303.0 337.5 L304.0 337.6 L305.0 337.8 L306.0 337.8 L307.0 337.9 L308.0 338.0 L309.0 338.0 L310.0 338.1 L311.0 338.1 L312.0 338.2 L313.0 338.2 L314.0 338.2 L315.0 338.2 L316.0 338.3 L317.0 338.3 L318.0 338.3 L318.0 338.3 Z" stroke="none" stroke-width="0.5" fill="#8a8a8a" stroke-linejoin="round"/>
<path d="M340.0 350.7 L340.0 350.4 L341.0 350.4 L342.0 350.2 L343.0 350.1 L344.0 349.9 L345.0 349.7 L346.0 349.4 L347.0 349.3 L348.0 348.8 L349.0 348.4 L350.0 348.0 L351.0 346.8 L352.0 346.0 L353.0 346.0 L354.0 344.1 L355.0 343.2 L356.0 342.3 L357.0 341.2 L358.0 338.9 L359.0 338.0 L360.0 336.0 L361.0 334.8 L362.0 335.6 L363.0 332.7 L364.0 331.6 L365.0 331.6 L366.0 333.2 L367.0 335.7 L368.0 336.6 L369.0 337.2 L370.0 336.1 L371.0 339.0 L372.0 340.1 L373.0 340.2 L374.0 342.5 L375.0 343.1 L376.0 344.3 L377.0 345.6 L378.0 345.8 L379.0 346.3 L380.0 347.4 L381.0 347.9 L382.0 348.3 L383.0 348.9 L384.0 349.0 L385.0 349.3 L386.0 349.6 L387.0 349.8 L388.0 350.0 L388.0 350.7 Z" stroke="#444" stroke-width="0.3" fill="#585858" stroke-linejoin="round"/>
<path d="M263.0 350.7 L263.0 350.6 L264.0 350.5 L265.0 350.4 L266.0 350.4 L267.0 350.3 L268.0 350.1 L269.0 350.0 L270.0 349.8 L271.0 349.6 L272.0 349.4 L273.0 349.2 L274.0 348.9 L275.0 348.7 L276.0 348.2 L277.0 347.9 L278.0 347.9 L279.0 347.2 L280.0 347.0 L281.0 346.9 L282.0 346.7 L283.0 346.8 L284.0 346.8 L285.0 346.5 L286.0 346.7 L287.0 346.8 L288.0 346.9 L289.0 347.2 L290.0 347.2 L291.0 347.4 L292.0 347.6 L293.0 348.0 L294.0 348.3 L295.0 348.6 L296.0 348.8 L297.0 349.2 L298.0 349.4 L299.0 349.6 L300.0 349.8 L301.0 350.0 L302.0 350.1 L303.0 350.3 L304.0 350.4 L305.0 350.4 L306.0 350.5 L307.0 350.5 L308.0 350.6 L309.0 350.6 L310.0 350.6 L311.0 350.7 L312.0 350.7 L312.0 350.7 Z" stroke="none" stroke-width="0.5" fill="#585858" stroke-linejoin="round"/>
<path d="M262.0 363.2 L262.0 363.1 L263.0 363.0 L264.0 363.0 L265.0 363.0 L266.0 362.9 L267.0 362.8 L268.0 362.7 L269.0 362.5 L270.0 362.4 L271.0 362.3 L272.0 362.1 L273.0 361.9 L274.0 361.9 L275.0 361.6 L276.0 361.5 L277.0 360.8 L278.0 361.0 L279.0 360.2 L280.0 360.5 L281.0 359.6 L282.0 359.6 L283.0 359.1 L284.0 358.1 L285.0 358.8 L286.0 358.3 L287.0 356.2 L288.0 356.3 L289.0 356.4 L290.0 353.4 L291.0 352.4 L292.0 353.7 L293.0 351.6 L294.0 351.4 L295.0 349.5 L296.0 347.0 L297.0 348.0 L298.0 344.5 L299.0 347.0 L300.0 346.0 L301.0 342.5 L302.0 344.9 L303.0 345.3 L304.0 345.2 L305.0 346.9 L306.0 348.5 L307.0 351.2 L308.0 350.0 L309.0 350.8 L310.0 352.4 L311.0 354.5 L312.0 356.4 L313.0 357.4 L314.0 357.7 L315.0 358.6 L316.0 359.9 L317.0 360.3 L318.0 360.6 L319.0 360.9 L320.0 361.1 L321.0 361.6 L322.0 362.1 L323.0 362.0 L324.0 362.3 L325.0 362.5 L326.0 362.7 L327.0 362.8 L328.0 362.9 L329.0 362.9 L330.0 363.0 L330.0 363.2 Z" stroke="#333" stroke-width="0.3" fill="#484848" stroke-linejoin="round"/>
<path d="M354.0 363.2 L354.0 363.2 L355.0 363.1 L356.0 363.1 L357.0 363.0 L358.0 363.0 L359.0 362.9 L360.0 362.7 L361.0 362.5 L362.0 362.1 L363.0 361.9 L364.0 361.3 L365.0 360.8 L366.0 360.2 L367.0 359.3 L368.0 358.2 L369.0 357.6 L370.0 357.5 L371.0 356.5 L372.0 356.0 L373.0 354.4 L374.0 354.1 L375.0 354.0 L376.0 353.9 L377.0 354.3 L378.0 354.3 L379.0 355.1 L380.0 356.5 L381.0 356.4 L382.0 357.6 L383.0 358.1 L384.0 359.1 L385.0 359.9 L386.0 360.6 L387.0 361.1 L388.0 361.7 L389.0 362.1 L390.0 362.3 L391.0 362.6 L392.0 362.8 L392.0 363.2 Z" stroke="none" stroke-width="0.5" fill="#484848" stroke-linejoin="round"/>
<path d="M266.0 375.6 L266.0 375.5 L267.0 375.4 L268.0 375.3 L269.0 375.1 L270.0 375.0 L271.0 374.7 L272.0 374.2 L273.0 373.8 L274.0 373.4 L275.0 372.6 L276.0 372.0 L277.0 370.8 L278.0 370.5 L279.0 369.4 L280.0 367.3 L281.0 367.0 L282.0 366.0 L283.0 363.7 L284.0 362.9 L285.0 363.1 L286.0 360.9 L287.0 359.5 L288.0 360.2 L289.0 357.8 L290.0 358.9 L291.0 357.5 L292.0 358.0 L293.0 357.2 L294.0 353.9 L295.0 356.2 L296.0 354.0 L297.0 356.5 L298.0 356.3 L299.0 356.0 L300.0 357.5 L301.0 360.3 L302.0 359.7 L303.0 360.6 L304.0 362.9 L305.0 364.1 L306.0 363.3 L307.0 365.1 L308.0 366.7 L309.0 367.1 L310.0 368.4 L311.0 368.3 L312.0 369.5 L313.0 370.6 L314.0 370.6 L315.0 371.8 L316.0 372.1 L317.0 372.8 L318.0 372.8 L319.0 373.5 L320.0 373.6 L321.0 374.1 L322.0 374.2 L323.0 374.4 L324.0 374.6 L325.0 374.8 L326.0 375.0 L327.0 375.1 L328.0 375.2 L329.0 375.3 L330.0 375.4 L331.0 375.4 L332.0 375.4 L332.0 375.6 Z" stroke="none" stroke-width="0.5" fill="#1e1e1e" stroke-linejoin="round"/>
<path d="M346.0 375.6 L346.0 375.5 L347.0 375.4 L348.0 375.3 L349.0 375.3 L350.0 375.1 L351.0 375.1 L352.0 374.9 L353.0 374.7 L354.0 374.5 L355.0 374.2 L356.0 374.1 L357.0 373.9 L358.0 373.5 L359.0 373.3 L360.0 373.1 L361.0 372.9 L362.0 372.4 L363.0 372.2 L364.0 372.0 L365.0 372.2 L366.0 371.8 L367.0 372.0 L368.0 372.2 L369.0 372.2 L370.0 372.4 L371.0 372.7 L372.0 372.7 L373.0 373.1 L374.0 373.3 L375.0 373.4 L376.0 373.8 L377.0 374.1 L378.0 374.3 L379.0 374.5 L380.0 374.7 L381.0 374.9 L382.0 375.1 L383.0 375.2 L384.0 375.3 L385.0 375.3 L386.0 375.4 L387.0 375.5 L388.0 375.5 L388.0 375.6 Z" stroke="none" stroke-width="0.5" fill="#1e1e1e" stroke-linejoin="round"/>
<rect x="261.0" y="276.3" width="185.5" height="99.3" fill="none" stroke="#1a1a1a" stroke-width="1.1" />
<text x="331.5" y="268.6" font-size="8.2" text-anchor="middle" fill="#222" stroke="#222" stroke-width="0.2">MMP<tspan font-size="6" dy="-2.6">–</tspan></text>
<text x="365.6" y="269.6" font-size="8.2" text-anchor="middle" fill="#222" stroke="#222" stroke-width="0.2">MMP<tspan font-size="6" dy="-2.6">+</tspan></text>
<path d="M347.9 274.6 V272.1 H313.2 M317.6 269.6 L313.0 272.1 L317.6 274.6" stroke="#333" stroke-width="0.8" fill="none" />
<path d="M351.2 274.6 V272.1 H386.0 M381.6 269.6 L386.2 272.1 L381.6 274.6" stroke="#333" stroke-width="0.8" fill="none" />
<line x1="263.0" y1="375.6" x2="263.0" y2="379.2" stroke="#222" stroke-width="0.9" />
<text x="264.4" y="391.0" font-size="6.4" text-anchor="start" fill="#222" stroke="#222" stroke-width="0.2">10<tspan font-size="5" dy="-3.3">0</tspan></text>
<line x1="275.9" y1="375.6" x2="275.9" y2="377.3" stroke="#444" stroke-width="0.5" />
<line x1="283.4" y1="375.6" x2="283.4" y2="377.3" stroke="#444" stroke-width="0.5" />
<line x1="288.7" y1="375.6" x2="288.7" y2="377.3" stroke="#444" stroke-width="0.5" />
<line x1="292.9" y1="375.6" x2="292.9" y2="377.3" stroke="#444" stroke-width="0.5" />
<line x1="296.3" y1="375.6" x2="296.3" y2="377.3" stroke="#444" stroke-width="0.5" />
<line x1="299.1" y1="375.6" x2="299.1" y2="377.3" stroke="#444" stroke-width="0.5" />
<line x1="301.6" y1="375.6" x2="301.6" y2="377.3" stroke="#444" stroke-width="0.5" />
<line x1="303.8" y1="375.6" x2="303.8" y2="377.3" stroke="#444" stroke-width="0.5" />
<line x1="305.8" y1="375.6" x2="305.8" y2="379.2" stroke="#222" stroke-width="0.9" />
<text x="303.8" y="391.0" font-size="6.4" text-anchor="start" fill="#222" stroke="#222" stroke-width="0.2">10<tspan font-size="5" dy="-3.3">1</tspan></text>
<line x1="318.6" y1="375.6" x2="318.6" y2="377.3" stroke="#444" stroke-width="0.5" />
<line x1="326.1" y1="375.6" x2="326.1" y2="377.3" stroke="#444" stroke-width="0.5" />
<line x1="331.5" y1="375.6" x2="331.5" y2="377.3" stroke="#444" stroke-width="0.5" />
<line x1="335.6" y1="375.6" x2="335.6" y2="377.3" stroke="#444" stroke-width="0.5" />
<line x1="339.0" y1="375.6" x2="339.0" y2="377.3" stroke="#444" stroke-width="0.5" />
<line x1="341.9" y1="375.6" x2="341.9" y2="377.3" stroke="#444" stroke-width="0.5" />
<line x1="344.4" y1="375.6" x2="344.4" y2="377.3" stroke="#444" stroke-width="0.5" />
<line x1="346.5" y1="375.6" x2="346.5" y2="377.3" stroke="#444" stroke-width="0.5" />
<line x1="348.5" y1="375.6" x2="348.5" y2="379.2" stroke="#222" stroke-width="0.9" />
<text x="346.9" y="391.0" font-size="6.4" text-anchor="start" fill="#222" stroke="#222" stroke-width="0.2">10<tspan font-size="5" dy="-3.3">2</tspan></text>
<line x1="361.4" y1="375.6" x2="361.4" y2="377.3" stroke="#444" stroke-width="0.5" />
<line x1="368.9" y1="375.6" x2="368.9" y2="377.3" stroke="#444" stroke-width="0.5" />
<line x1="374.2" y1="375.6" x2="374.2" y2="377.3" stroke="#444" stroke-width="0.5" />
<line x1="378.4" y1="375.6" x2="378.4" y2="377.3" stroke="#444" stroke-width="0.5" />
<line x1="381.8" y1="375.6" x2="381.8" y2="377.3" stroke="#444" stroke-width="0.5" />
<line x1="384.6" y1="375.6" x2="384.6" y2="377.3" stroke="#444" stroke-width="0.5" />
<line x1="387.1" y1="375.6" x2="387.1" y2="377.3" stroke="#444" stroke-width="0.5" />
<line x1="389.3" y1="375.6" x2="389.3" y2="377.3" stroke="#444" stroke-width="0.5" />
<line x1="391.2" y1="375.6" x2="391.2" y2="379.2" stroke="#222" stroke-width="0.9" />
<text x="390.9" y="391.0" font-size="6.4" text-anchor="start" fill="#222" stroke="#222" stroke-width="0.2">10<tspan font-size="5" dy="-3.3">3</tspan></text>
<line x1="404.1" y1="375.6" x2="404.1" y2="377.3" stroke="#444" stroke-width="0.5" />
<line x1="411.6" y1="375.6" x2="411.6" y2="377.3" stroke="#444" stroke-width="0.5" />
<line x1="417.0" y1="375.6" x2="417.0" y2="377.3" stroke="#444" stroke-width="0.5" />
<line x1="421.1" y1="375.6" x2="421.1" y2="377.3" stroke="#444" stroke-width="0.5" />
<line x1="424.5" y1="375.6" x2="424.5" y2="377.3" stroke="#444" stroke-width="0.5" />
<line x1="427.4" y1="375.6" x2="427.4" y2="377.3" stroke="#444" stroke-width="0.5" />
<line x1="429.9" y1="375.6" x2="429.9" y2="377.3" stroke="#444" stroke-width="0.5" />
<line x1="432.0" y1="375.6" x2="432.0" y2="377.3" stroke="#444" stroke-width="0.5" />
<line x1="434.0" y1="375.6" x2="434.0" y2="379.2" stroke="#222" stroke-width="0.9" />
<text x="429.2" y="391.0" font-size="6.4" text-anchor="start" fill="#222" stroke="#222" stroke-width="0.2">10<tspan font-size="5" dy="-3.3">4</tspan></text>
<line x1="446.9" y1="375.6" x2="446.9" y2="377.2" stroke="#555" stroke-width="0.4" />
<rect x="402.2" y="288.2" width="92.4" height="87.4" fill="#fff" stroke="none" stroke-width="0.6" />
<line x1="402.2" y1="288.2" x2="494.6" y2="288.2" stroke="#2a2a2a" stroke-width="0.9" />
<line x1="402.2" y1="300.9" x2="494.6" y2="300.9" stroke="#2a2a2a" stroke-width="0.9" />
<line x1="402.2" y1="313.4" x2="494.6" y2="313.4" stroke="#2a2a2a" stroke-width="0.9" />
<line x1="402.2" y1="325.8" x2="494.6" y2="325.8" stroke="#2a2a2a" stroke-width="0.9" />
<line x1="402.2" y1="338.3" x2="494.6" y2="338.3" stroke="#2a2a2a" stroke-width="0.9" />
<line x1="402.2" y1="350.7" x2="494.6" y2="350.7" stroke="#2a2a2a" stroke-width="0.9" />
<line x1="402.2" y1="363.2" x2="494.6" y2="363.2" stroke="#2a2a2a" stroke-width="0.9" />
<line x1="402.2" y1="375.6" x2="494.6" y2="375.6" stroke="#2a2a2a" stroke-width="0.9" />
<line x1="402.2" y1="288.2" x2="402.2" y2="375.6" stroke="#333" stroke-width="0.8" />
<line x1="411.4" y1="288.2" x2="411.4" y2="375.6" stroke="#999" stroke-width="0.6" />
<line x1="446.5" y1="288.2" x2="446.5" y2="375.6" stroke="#333" stroke-width="0.7" stroke-dasharray="0.9 0.9"/>
<line x1="470.2" y1="288.2" x2="470.2" y2="375.6" stroke="#333" stroke-width="0.7" stroke-dasharray="0.9 0.9"/>
<line x1="494.6" y1="288.2" x2="494.6" y2="375.6" stroke="#333" stroke-width="0.7" stroke-dasharray="0.9 0.9"/>
<rect x="404.3" y="290.3" width="5.3" height="8.4" fill="#9a9a9a" stroke="#666" stroke-width="0.3" />
<text x="413.3" y="296.4" font-size="5.2" text-anchor="start" fill="#555" font-style="italic" stroke="#555" stroke-width="0.2">No Dye</text>
<text x="458.3" y="296.4" font-size="5.3" text-anchor="middle" fill="#444" stroke="#444" stroke-width="0.2">100</text>
<text x="482.0" y="296.4" font-size="5.3" text-anchor="middle" fill="#444" stroke="#444" stroke-width="0.2">0</text>
<rect x="404.3" y="302.9" width="5.3" height="8.4" fill="#1c1c1c" stroke="#666" stroke-width="0.3" />
<text x="413.3" y="309.0" font-size="5.2" text-anchor="start" fill="#555" font-style="italic" stroke="#555" stroke-width="0.2">DMSO</text>
<text x="458.3" y="309.0" font-size="5.3" text-anchor="middle" fill="#444" stroke="#444" stroke-width="0.2">4.1</text>
<text x="482.0" y="309.0" font-size="5.3" text-anchor="middle" fill="#444" stroke="#444" stroke-width="0.2">95.9</text>
<rect x="404.3" y="315.4" width="5.3" height="8.4" fill="#b8b8b8" stroke="#666" stroke-width="0.3" />
<text x="413.3" y="321.5" font-size="5.2" text-anchor="start" fill="#555" font-style="italic" stroke="#555" stroke-width="0.2">FCCP</text>
<text x="458.3" y="321.5" font-size="5.3" text-anchor="middle" fill="#444" stroke="#444" stroke-width="0.2">93</text>
<text x="482.0" y="321.5" font-size="5.3" text-anchor="middle" fill="#444" stroke="#444" stroke-width="0.2">7</text>
<rect x="404.3" y="327.9" width="5.3" height="8.4" fill="#8a8a8a" stroke="#666" stroke-width="0.3" />
<text x="413.3" y="333.9" font-size="5.2" text-anchor="start" fill="#555" stroke="#555" stroke-width="0.2">6 h 3 µmol/L</text>
<text x="458.3" y="333.9" font-size="5.3" text-anchor="middle" fill="#444" stroke="#444" stroke-width="0.2">21.1</text>
<text x="482.0" y="333.9" font-size="5.3" text-anchor="middle" fill="#444" stroke="#444" stroke-width="0.2">78.9</text>
<rect x="404.3" y="340.3" width="5.3" height="8.4" fill="#585858" stroke="#666" stroke-width="0.3" />
<text x="413.3" y="346.4" font-size="5.2" text-anchor="start" fill="#555" stroke="#555" stroke-width="0.2">6 h 5 µmol/L</text>
<text x="458.3" y="346.4" font-size="5.3" text-anchor="middle" fill="#444" stroke="#444" stroke-width="0.2">32.3</text>
<text x="482.0" y="346.4" font-size="5.3" text-anchor="middle" fill="#444" stroke="#444" stroke-width="0.2">67.7</text>
<rect x="404.3" y="352.8" width="5.3" height="8.4" fill="#404040" stroke="#666" stroke-width="0.3" />
<text x="413.3" y="358.8" font-size="5.2" text-anchor="start" fill="#555" stroke="#555" stroke-width="0.2">24 h 3 µmol/L</text>
<text x="458.3" y="358.8" font-size="5.3" text-anchor="middle" fill="#444" stroke="#444" stroke-width="0.2">71.9</text>
<text x="482.0" y="358.8" font-size="5.3" text-anchor="middle" fill="#444" stroke="#444" stroke-width="0.2">28.1</text>
<rect x="404.3" y="365.2" width="5.3" height="8.4" fill="#1e1e1e" stroke="#666" stroke-width="0.3" />
<text x="413.3" y="371.3" font-size="5.2" text-anchor="start" fill="#555" stroke="#555" stroke-width="0.2">24 h 5 µmol/L</text>
<text x="458.3" y="371.3" font-size="5.3" text-anchor="middle" fill="#444" stroke="#444" stroke-width="0.2">89.0</text>
<text x="482.0" y="371.3" font-size="5.3" text-anchor="middle" fill="#444" stroke="#444" stroke-width="0.2">11.0</text>
<text x="468.3" y="275.7" font-size="6.4" text-anchor="middle" fill="#333" stroke="#333" stroke-width="0.1">% of cells</text>
<text x="459.2" y="285.0" font-size="8" text-anchor="middle" fill="#222" stroke="#222" stroke-width="0.2">(–)</text>
<text x="482.0" y="285.0" font-size="8" text-anchor="middle" fill="#222" stroke="#222" stroke-width="0.2">(+)</text>
<text x="13.2" y="413.3" font-size="12.7" text-anchor="start" fill="#111" font-weight="bold" stroke="#111" stroke-width="0.45">E</text>
<line x1="47.1" y1="427.5" x2="47.1" y2="572.0" stroke="#555" stroke-width="0.9" />
<line x1="47.1" y1="572.0" x2="226.1" y2="572.0" stroke="#555" stroke-width="0.9" />
<line x1="44.1" y1="572.0" x2="47.1" y2="572.0" stroke="#555" stroke-width="0.8" />
<text x="42.8" y="574.5" font-size="7" text-anchor="end" fill="#222" stroke="#222" stroke-width="0.2">0</text>
<line x1="44.1" y1="547.9" x2="47.1" y2="547.9" stroke="#555" stroke-width="0.8" />
<text x="42.8" y="550.4" font-size="7" text-anchor="end" fill="#222" stroke="#222" stroke-width="0.2">20</text>
<line x1="44.1" y1="523.8" x2="47.1" y2="523.8" stroke="#555" stroke-width="0.8" />
<text x="42.8" y="526.3" font-size="7" text-anchor="end" fill="#222" stroke="#222" stroke-width="0.2">40</text>
<line x1="44.1" y1="499.7" x2="47.1" y2="499.7" stroke="#555" stroke-width="0.8" />
<text x="42.8" y="502.2" font-size="7" text-anchor="end" fill="#222" stroke="#222" stroke-width="0.2">60</text>
<line x1="44.1" y1="475.6" x2="47.1" y2="475.6" stroke="#555" stroke-width="0.8" />
<text x="42.8" y="478.1" font-size="7" text-anchor="end" fill="#222" stroke="#222" stroke-width="0.2">80</text>
<line x1="44.1" y1="451.6" x2="47.1" y2="451.6" stroke="#555" stroke-width="0.8" />
<text x="42.8" y="454.1" font-size="7" text-anchor="end" fill="#222" stroke="#222" stroke-width="0.2">100</text>
<line x1="44.1" y1="427.5" x2="47.1" y2="427.5" stroke="#555" stroke-width="0.8" />
<text x="42.8" y="430.0" font-size="7" text-anchor="end" fill="#222" stroke="#222" stroke-width="0.2">120</text>
<line x1="45.3" y1="560.0" x2="47.1" y2="560.0" stroke="#555" stroke-width="0.7" />
<line x1="45.3" y1="535.9" x2="47.1" y2="535.9" stroke="#555" stroke-width="0.7" />
<line x1="45.3" y1="511.8" x2="47.1" y2="511.8" stroke="#555" stroke-width="0.7" />
<line x1="45.3" y1="487.7" x2="47.1" y2="487.7" stroke="#555" stroke-width="0.7" />
<line x1="45.3" y1="463.6" x2="47.1" y2="463.6" stroke="#555" stroke-width="0.7" />
<line x1="45.3" y1="439.5" x2="47.1" y2="439.5" stroke="#555" stroke-width="0.7" />
<line x1="63.5" y1="572.0" x2="63.5" y2="575.0" stroke="#555" stroke-width="0.8" />
<line x1="79.7" y1="572.0" x2="79.7" y2="573.8" stroke="#555" stroke-width="0.6" />
<line x1="95.9" y1="572.0" x2="95.9" y2="575.0" stroke="#555" stroke-width="0.8" />
<line x1="112.2" y1="572.0" x2="112.2" y2="573.8" stroke="#555" stroke-width="0.6" />
<line x1="128.4" y1="572.0" x2="128.4" y2="575.0" stroke="#555" stroke-width="0.8" />
<line x1="144.6" y1="572.0" x2="144.6" y2="573.8" stroke="#555" stroke-width="0.6" />
<line x1="160.8" y1="572.0" x2="160.8" y2="575.0" stroke="#555" stroke-width="0.8" />
<line x1="177.0" y1="572.0" x2="177.0" y2="573.8" stroke="#555" stroke-width="0.6" />
<line x1="193.3" y1="572.0" x2="193.3" y2="575.0" stroke="#555" stroke-width="0.8" />
<line x1="209.5" y1="572.0" x2="209.5" y2="573.8" stroke="#555" stroke-width="0.6" />
<line x1="225.7" y1="572.0" x2="225.7" y2="575.0" stroke="#555" stroke-width="0.8" />
<text x="63.5" y="581.7" font-size="7" text-anchor="middle" fill="#222" stroke="#222" stroke-width="0.2">DMSO</text>
<text x="95.9" y="581.7" font-size="7" text-anchor="middle" fill="#222" stroke="#222" stroke-width="0.2">2</text>
<text x="128.4" y="581.7" font-size="7" text-anchor="middle" fill="#222" stroke="#222" stroke-width="0.2">4</text>
<text x="160.8" y="581.7" font-size="7" text-anchor="middle" fill="#222" stroke="#222" stroke-width="0.2">6</text>
<text x="193.3" y="581.7" font-size="7" text-anchor="middle" fill="#222" stroke="#222" stroke-width="0.2">8</text>
<text x="225.7" y="581.7" font-size="7" text-anchor="middle" fill="#222" stroke="#222" stroke-width="0.2">10</text>
<text x="28.7" y="498.2" font-size="7.8" text-anchor="middle" fill="#222" transform="rotate(-90 28.7 498.2)" stroke="#222" stroke-width="0.2">% of cell viability compared to DMSO control</text>
<path d="M63.5 451.6 C66.2 451.9 74.3 452.7 79.7 453.6 C85.1 454.5 91.6 455.8 95.9 457.2 C100.3 458.6 103.0 459.9 105.7 461.8 C108.4 463.7 109.7 464.5 112.2 468.4 C114.6 472.3 117.6 479.3 120.3 485.3 C123.0 491.3 125.7 498.5 128.4 504.5 C131.1 510.6 133.8 516.6 136.5 521.4 C139.2 526.2 140.5 528.9 144.6 533.5 C148.7 538.0 155.4 544.3 160.8 548.5 C166.2 552.7 171.6 556.1 177.0 558.8 C182.4 561.4 187.9 563.0 193.3 564.4 C198.7 565.8 204.1 566.5 209.5 567.2 C214.9 567.9 223.0 568.4 225.7 568.6" stroke="#555" stroke-width="0.7" fill="none" />
<path d="M63.5 455.8 C66.2 456.1 74.3 456.9 79.7 457.8 C85.1 458.7 90.5 459.5 95.9 461.2 C101.3 462.9 108.1 465.8 112.2 467.8 C116.2 469.8 117.6 471.0 120.3 473.2 C123.0 475.4 125.7 477.2 128.4 481.1 C131.1 484.9 133.8 491.2 136.5 496.1 C139.2 501.0 141.9 507.3 144.6 510.6 C147.3 513.9 150.0 514.8 152.7 516.0 C155.4 517.2 154.1 517.3 160.8 517.6 C167.6 517.8 182.4 517.5 193.3 517.4 C204.1 517.4 220.3 517.2 225.7 517.2" stroke="#666" stroke-width="0.7" fill="none" />
<line x1="63.5" y1="454.0" x2="63.5" y2="457.6" stroke="#777" stroke-width="0.5" />
<line x1="62.5" y1="454.0" x2="64.5" y2="454.0" stroke="#777" stroke-width="0.5" />
<line x1="62.5" y1="457.6" x2="64.5" y2="457.6" stroke="#777" stroke-width="0.5" />
<circle cx="63.5" cy="455.8" r="1.25" fill="#fff" stroke="#777" stroke-width="0.55"/>
<line x1="95.9" y1="458.2" x2="95.9" y2="466.6" stroke="#777" stroke-width="0.5" />
<line x1="94.9" y1="458.2" x2="96.9" y2="458.2" stroke="#777" stroke-width="0.5" />
<line x1="94.9" y1="466.6" x2="96.9" y2="466.6" stroke="#777" stroke-width="0.5" />
<circle cx="95.9" cy="462.4" r="1.25" fill="#fff" stroke="#777" stroke-width="0.55"/>
<line x1="112.2" y1="464.2" x2="112.2" y2="472.6" stroke="#777" stroke-width="0.5" />
<line x1="111.2" y1="464.2" x2="113.2" y2="464.2" stroke="#777" stroke-width="0.5" />
<line x1="111.2" y1="472.6" x2="113.2" y2="472.6" stroke="#777" stroke-width="0.5" />
<circle cx="112.2" cy="468.4" r="1.25" fill="#fff" stroke="#777" stroke-width="0.55"/>
<line x1="128.4" y1="476.8" x2="128.4" y2="481.7" stroke="#777" stroke-width="0.5" />
<line x1="127.4" y1="476.8" x2="129.4" y2="476.8" stroke="#777" stroke-width="0.5" />
<line x1="127.4" y1="481.7" x2="129.4" y2="481.7" stroke="#777" stroke-width="0.5" />
<circle cx="128.4" cy="479.3" r="1.25" fill="#fff" stroke="#777" stroke-width="0.55"/>
<line x1="144.6" y1="510.6" x2="144.6" y2="520.2" stroke="#777" stroke-width="0.5" />
<line x1="143.6" y1="510.6" x2="145.6" y2="510.6" stroke="#777" stroke-width="0.5" />
<line x1="143.6" y1="520.2" x2="145.6" y2="520.2" stroke="#777" stroke-width="0.5" />
<circle cx="144.6" cy="515.4" r="1.25" fill="#fff" stroke="#777" stroke-width="0.55"/>
<line x1="160.8" y1="514.8" x2="160.8" y2="520.8" stroke="#777" stroke-width="0.5" />
<line x1="159.8" y1="514.8" x2="161.8" y2="514.8" stroke="#777" stroke-width="0.5" />
<line x1="159.8" y1="520.8" x2="161.8" y2="520.8" stroke="#777" stroke-width="0.5" />
<circle cx="160.8" cy="517.8" r="1.25" fill="#fff" stroke="#777" stroke-width="0.55"/>
<line x1="193.3" y1="513.6" x2="193.3" y2="520.8" stroke="#777" stroke-width="0.5" />
<line x1="192.3" y1="513.6" x2="194.3" y2="513.6" stroke="#777" stroke-width="0.5" />
<line x1="192.3" y1="520.8" x2="194.3" y2="520.8" stroke="#777" stroke-width="0.5" />
<circle cx="193.3" cy="517.2" r="1.25" fill="#fff" stroke="#777" stroke-width="0.55"/>
<line x1="225.7" y1="512.4" x2="225.7" y2="522.0" stroke="#777" stroke-width="0.5" />
<line x1="224.7" y1="512.4" x2="226.7" y2="512.4" stroke="#777" stroke-width="0.5" />
<line x1="224.7" y1="522.0" x2="226.7" y2="522.0" stroke="#777" stroke-width="0.5" />
<circle cx="225.7" cy="517.2" r="1.25" fill="#fff" stroke="#777" stroke-width="0.55"/>
<line x1="63.5" y1="450.1" x2="63.5" y2="453.0" stroke="#666" stroke-width="0.5" />
<line x1="62.5" y1="450.1" x2="64.5" y2="450.1" stroke="#666" stroke-width="0.5" />
<line x1="62.5" y1="453.0" x2="64.5" y2="453.0" stroke="#666" stroke-width="0.5" />
<rect x="62.1" y="450.2" width="2.7" height="2.7" fill="#000" stroke="none" stroke-width="0.6" />
<line x1="95.9" y1="455.5" x2="95.9" y2="458.4" stroke="#666" stroke-width="0.5" />
<line x1="94.9" y1="455.5" x2="96.9" y2="455.5" stroke="#666" stroke-width="0.5" />
<line x1="94.9" y1="458.4" x2="96.9" y2="458.4" stroke="#666" stroke-width="0.5" />
<rect x="94.6" y="455.6" width="2.7" height="2.7" fill="#000" stroke="none" stroke-width="0.6" />
<line x1="112.2" y1="461.8" x2="112.2" y2="471.4" stroke="#666" stroke-width="0.5" />
<line x1="111.2" y1="461.8" x2="113.2" y2="461.8" stroke="#666" stroke-width="0.5" />
<line x1="111.2" y1="471.4" x2="113.2" y2="471.4" stroke="#666" stroke-width="0.5" />
<rect x="110.8" y="465.3" width="2.7" height="2.7" fill="#000" stroke="none" stroke-width="0.6" />
<line x1="128.4" y1="506.4" x2="128.4" y2="508.8" stroke="#666" stroke-width="0.5" />
<line x1="127.4" y1="506.4" x2="129.4" y2="506.4" stroke="#666" stroke-width="0.5" />
<line x1="127.4" y1="508.8" x2="129.4" y2="508.8" stroke="#666" stroke-width="0.5" />
<rect x="127.0" y="506.2" width="2.7" height="2.7" fill="#000" stroke="none" stroke-width="0.6" />
<line x1="144.6" y1="532.3" x2="144.6" y2="535.9" stroke="#666" stroke-width="0.5" />
<line x1="143.6" y1="532.3" x2="145.6" y2="532.3" stroke="#666" stroke-width="0.5" />
<line x1="143.6" y1="535.9" x2="145.6" y2="535.9" stroke="#666" stroke-width="0.5" />
<rect x="143.2" y="532.7" width="2.7" height="2.7" fill="#000" stroke="none" stroke-width="0.6" />
<line x1="160.8" y1="545.9" x2="160.8" y2="548.8" stroke="#666" stroke-width="0.5" />
<line x1="159.8" y1="545.9" x2="161.8" y2="545.9" stroke="#666" stroke-width="0.5" />
<line x1="159.8" y1="548.8" x2="161.8" y2="548.8" stroke="#666" stroke-width="0.5" />
<rect x="159.5" y="546.0" width="2.7" height="2.7" fill="#000" stroke="none" stroke-width="0.6" />
<line x1="193.3" y1="564.2" x2="193.3" y2="566.6" stroke="#666" stroke-width="0.5" />
<line x1="192.3" y1="564.2" x2="194.3" y2="564.2" stroke="#666" stroke-width="0.5" />
<line x1="192.3" y1="566.6" x2="194.3" y2="566.6" stroke="#666" stroke-width="0.5" />
<rect x="191.9" y="564.0" width="2.7" height="2.7" fill="#000" stroke="none" stroke-width="0.6" />
<line x1="225.7" y1="567.2" x2="225.7" y2="569.6" stroke="#666" stroke-width="0.5" />
<line x1="224.7" y1="567.2" x2="226.7" y2="567.2" stroke="#666" stroke-width="0.5" />
<line x1="224.7" y1="569.6" x2="226.7" y2="569.6" stroke="#666" stroke-width="0.5" />
<rect x="224.3" y="567.0" width="2.7" height="2.7" fill="#000" stroke="none" stroke-width="0.6" />
<rect x="155.3" y="427.2" width="73.6" height="18.6" fill="#fff" stroke="#666" stroke-width="0.6" />
<line x1="159.8" y1="432.6" x2="174.8" y2="432.6" stroke="#666" stroke-width="0.6" />
<rect x="167.0" y="431.1" width="3.0" height="3.0" fill="#000" stroke="none" stroke-width="0.6" />
<line x1="159.8" y1="440.8" x2="174.8" y2="440.8" stroke="#666" stroke-width="0.6" />
<circle cx="168.5" cy="440.8" r="1.25" fill="#fff" stroke="#777" stroke-width="0.55"/>
<text x="177.5" y="435.2" font-size="7.0" text-anchor="start" fill="#111" stroke="#111" stroke-width="0.2">wt HCT116</text>
<text x="177.5" y="443.4" font-size="7.0" text-anchor="start" fill="#111" stroke="#111" stroke-width="0.2">Bax<tspan font-size="4.5" dy="-2.8"> –/–</tspan><tspan dy="2.8"> HCT116</tspan></text>
<path d="M79 587.2 V589.6 H117.2 M117.2 586.2 V593" stroke="#555" stroke-width="0.7" fill="none" />
<path d="M187 586.2 V593 M187 589.6 H226.1 V587.2" stroke="#555" stroke-width="0.7" fill="none" />
<text x="150.0" y="592.0" font-size="6.8" text-anchor="middle" fill="#222" stroke="#222" stroke-width="0.2">Leelamine (µmol/L)</text>
<text x="261.8" y="413.3" font-size="12.7" text-anchor="start" fill="#111" font-weight="bold" stroke="#111" stroke-width="0.45">F</text>
<line x1="277.9" y1="427.5" x2="277.9" y2="572.0" stroke="#555" stroke-width="0.9" />
<line x1="277.9" y1="572.0" x2="496.6" y2="572.0" stroke="#555" stroke-width="0.9" />
<line x1="274.9" y1="572.0" x2="277.9" y2="572.0" stroke="#555" stroke-width="0.8" />
<text x="273.6" y="574.5" font-size="7" text-anchor="end" fill="#222" stroke="#222" stroke-width="0.2">0</text>
<line x1="274.9" y1="547.9" x2="277.9" y2="547.9" stroke="#555" stroke-width="0.8" />
<text x="273.6" y="550.4" font-size="7" text-anchor="end" fill="#222" stroke="#222" stroke-width="0.2">20</text>
<line x1="274.9" y1="523.8" x2="277.9" y2="523.8" stroke="#555" stroke-width="0.8" />
<text x="273.6" y="526.3" font-size="7" text-anchor="end" fill="#222" stroke="#222" stroke-width="0.2">40</text>
<line x1="274.9" y1="499.7" x2="277.9" y2="499.7" stroke="#555" stroke-width="0.8" />
<text x="273.6" y="502.2" font-size="7" text-anchor="end" fill="#222" stroke="#222" stroke-width="0.2">60</text>
<line x1="274.9" y1="475.6" x2="277.9" y2="475.6" stroke="#555" stroke-width="0.8" />
<text x="273.6" y="478.1" font-size="7" text-anchor="end" fill="#222" stroke="#222" stroke-width="0.2">80</text>
<line x1="274.9" y1="451.6" x2="277.9" y2="451.6" stroke="#555" stroke-width="0.8" />
<text x="273.6" y="454.1" font-size="7" text-anchor="end" fill="#222" stroke="#222" stroke-width="0.2">100</text>
<line x1="274.9" y1="427.5" x2="277.9" y2="427.5" stroke="#555" stroke-width="0.8" />
<text x="273.6" y="430.0" font-size="7" text-anchor="end" fill="#222" stroke="#222" stroke-width="0.2">120</text>
<line x1="276.1" y1="560.0" x2="277.9" y2="560.0" stroke="#555" stroke-width="0.7" />
<line x1="276.1" y1="535.9" x2="277.9" y2="535.9" stroke="#555" stroke-width="0.7" />
<line x1="276.1" y1="511.8" x2="277.9" y2="511.8" stroke="#555" stroke-width="0.7" />
<line x1="276.1" y1="487.7" x2="277.9" y2="487.7" stroke="#555" stroke-width="0.7" />
<line x1="276.1" y1="463.6" x2="277.9" y2="463.6" stroke="#555" stroke-width="0.7" />
<line x1="276.1" y1="439.5" x2="277.9" y2="439.5" stroke="#555" stroke-width="0.7" />
<line x1="297.5" y1="572.0" x2="297.5" y2="575.0" stroke="#555" stroke-width="0.8" />
<line x1="309.9" y1="572.0" x2="309.9" y2="573.8" stroke="#555" stroke-width="0.6" />
<line x1="322.3" y1="572.0" x2="322.3" y2="575.0" stroke="#555" stroke-width="0.8" />
<line x1="334.8" y1="572.0" x2="334.8" y2="573.8" stroke="#555" stroke-width="0.6" />
<line x1="347.2" y1="572.0" x2="347.2" y2="575.0" stroke="#555" stroke-width="0.8" />
<line x1="359.6" y1="572.0" x2="359.6" y2="573.8" stroke="#555" stroke-width="0.6" />
<line x1="372.0" y1="572.0" x2="372.0" y2="575.0" stroke="#555" stroke-width="0.8" />
<line x1="384.4" y1="572.0" x2="384.4" y2="573.8" stroke="#555" stroke-width="0.6" />
<line x1="396.9" y1="572.0" x2="396.9" y2="575.0" stroke="#555" stroke-width="0.8" />
<line x1="409.3" y1="572.0" x2="409.3" y2="573.8" stroke="#555" stroke-width="0.6" />
<line x1="421.7" y1="572.0" x2="421.7" y2="575.0" stroke="#555" stroke-width="0.8" />
<line x1="434.1" y1="572.0" x2="434.1" y2="573.8" stroke="#555" stroke-width="0.6" />
<line x1="446.5" y1="572.0" x2="446.5" y2="575.0" stroke="#555" stroke-width="0.8" />
<line x1="459.0" y1="572.0" x2="459.0" y2="573.8" stroke="#555" stroke-width="0.6" />
<line x1="471.4" y1="572.0" x2="471.4" y2="575.0" stroke="#555" stroke-width="0.8" />
<line x1="483.8" y1="572.0" x2="483.8" y2="573.8" stroke="#555" stroke-width="0.6" />
<line x1="496.2" y1="572.0" x2="496.2" y2="575.0" stroke="#555" stroke-width="0.8" />
<text x="297.5" y="581.7" font-size="7" text-anchor="middle" fill="#222" stroke="#222" stroke-width="0.2">DMSO</text>
<text x="322.3" y="581.7" font-size="7" text-anchor="middle" fill="#222" stroke="#222" stroke-width="0.2">2</text>
<text x="347.2" y="581.7" font-size="7" text-anchor="middle" fill="#222" stroke="#222" stroke-width="0.2">4</text>
<text x="372.0" y="581.7" font-size="7" text-anchor="middle" fill="#222" stroke="#222" stroke-width="0.2">6</text>
<text x="396.9" y="581.7" font-size="7" text-anchor="middle" fill="#222" stroke="#222" stroke-width="0.2">8</text>
<text x="421.7" y="581.7" font-size="7" text-anchor="middle" fill="#222" stroke="#222" stroke-width="0.2">10</text>
<text x="446.5" y="581.7" font-size="7" text-anchor="middle" fill="#222" stroke="#222" stroke-width="0.2">12</text>
<text x="471.4" y="581.7" font-size="7" text-anchor="middle" fill="#222" stroke="#222" stroke-width="0.2">14</text>
<text x="496.2" y="581.7" font-size="7" text-anchor="middle" fill="#222" stroke="#222" stroke-width="0.2">16</text>
<text x="258.7" y="498.2" font-size="7.8" text-anchor="middle" fill="#222" transform="rotate(-90 258.7 498.2)" stroke="#222" stroke-width="0.2">% of cell viability compared to DMSO control</text>
<path d="M297.5 451.6 C300.6 450.6 311.0 447.2 316.1 445.8 C321.3 444.4 325.4 443.5 328.6 443.1 C331.7 442.7 331.7 442.9 334.8 443.4 C337.9 443.9 343.0 445.5 347.2 446.1 C351.3 446.7 355.5 446.9 359.6 447.0 C363.7 447.1 367.9 447.0 372.0 446.7 C376.2 446.5 380.3 445.8 384.4 445.5 C388.6 445.2 392.7 444.4 396.9 444.8 C401.0 445.2 405.1 446.7 409.3 447.9 C413.4 449.2 414.5 449.9 421.7 452.2 C428.9 454.4 442.4 458.2 452.8 461.2 C463.1 464.2 478.6 468.7 483.8 470.2" stroke="#aaa" stroke-width="0.7" fill="none" />
<path d="M297.5 451.6 C300.6 451.7 309.9 451.9 316.1 452.2 C322.3 452.4 329.6 452.7 334.8 453.1 C339.9 453.5 343.0 453.6 347.2 454.4 C351.3 455.3 356.5 457.0 359.6 458.4 C362.7 459.8 363.7 461.1 365.8 463.0 C367.9 464.9 368.9 466.1 372.0 469.6 C375.1 473.1 380.3 479.9 384.4 484.1 C388.6 488.3 392.7 492.0 396.9 494.9 C401.0 497.8 405.1 499.8 409.3 501.5 C413.4 503.2 414.5 503.4 421.7 505.2 C428.9 506.9 442.4 509.6 452.8 511.8 C463.1 514.0 478.6 517.3 483.8 518.4" stroke="#999" stroke-width="0.7" fill="none" />
<line x1="297.5" y1="450.3" x2="297.5" y2="452.8" stroke="#999" stroke-width="0.5" />
<line x1="296.5" y1="450.3" x2="298.5" y2="450.3" stroke="#999" stroke-width="0.5" />
<line x1="296.5" y1="452.8" x2="298.5" y2="452.8" stroke="#999" stroke-width="0.5" />
<rect x="295.9" y="449.9" width="3.2" height="3.2" fill="#000" stroke="none" stroke-width="0.6" />
<line x1="334.8" y1="447.9" x2="334.8" y2="458.8" stroke="#999" stroke-width="0.5" />
<line x1="333.8" y1="447.9" x2="335.8" y2="447.9" stroke="#999" stroke-width="0.5" />
<line x1="333.8" y1="458.8" x2="335.8" y2="458.8" stroke="#999" stroke-width="0.5" />
<rect x="333.2" y="451.8" width="3.2" height="3.2" fill="#000" stroke="none" stroke-width="0.6" />
<line x1="347.2" y1="450.3" x2="347.2" y2="458.8" stroke="#999" stroke-width="0.5" />
<line x1="346.2" y1="450.3" x2="348.2" y2="450.3" stroke="#999" stroke-width="0.5" />
<line x1="346.2" y1="458.8" x2="348.2" y2="458.8" stroke="#999" stroke-width="0.5" />
<rect x="345.6" y="453.0" width="3.2" height="3.2" fill="#000" stroke="none" stroke-width="0.6" />
<line x1="359.6" y1="452.8" x2="359.6" y2="463.6" stroke="#999" stroke-width="0.5" />
<line x1="358.6" y1="452.8" x2="360.6" y2="452.8" stroke="#999" stroke-width="0.5" />
<line x1="358.6" y1="463.6" x2="360.6" y2="463.6" stroke="#999" stroke-width="0.5" />
<rect x="358.0" y="456.6" width="3.2" height="3.2" fill="#000" stroke="none" stroke-width="0.6" />
<line x1="372.0" y1="462.4" x2="372.0" y2="478.0" stroke="#999" stroke-width="0.5" />
<line x1="371.0" y1="462.4" x2="373.0" y2="462.4" stroke="#999" stroke-width="0.5" />
<line x1="371.0" y1="478.0" x2="373.0" y2="478.0" stroke="#999" stroke-width="0.5" />
<rect x="370.4" y="468.6" width="3.2" height="3.2" fill="#000" stroke="none" stroke-width="0.6" />
<line x1="396.9" y1="497.9" x2="396.9" y2="502.7" stroke="#999" stroke-width="0.5" />
<line x1="395.9" y1="497.9" x2="397.9" y2="497.9" stroke="#999" stroke-width="0.5" />
<line x1="395.9" y1="502.7" x2="397.9" y2="502.7" stroke="#999" stroke-width="0.5" />
<rect x="395.3" y="498.7" width="3.2" height="3.2" fill="#000" stroke="none" stroke-width="0.6" />
<line x1="421.7" y1="496.7" x2="421.7" y2="513.6" stroke="#999" stroke-width="0.5" />
<line x1="420.7" y1="496.7" x2="422.7" y2="496.7" stroke="#999" stroke-width="0.5" />
<line x1="420.7" y1="513.6" x2="422.7" y2="513.6" stroke="#999" stroke-width="0.5" />
<rect x="420.1" y="503.6" width="3.2" height="3.2" fill="#000" stroke="none" stroke-width="0.6" />
<line x1="483.8" y1="515.4" x2="483.8" y2="521.4" stroke="#999" stroke-width="0.5" />
<line x1="482.8" y1="515.4" x2="484.8" y2="515.4" stroke="#999" stroke-width="0.5" />
<line x1="482.8" y1="521.4" x2="484.8" y2="521.4" stroke="#999" stroke-width="0.5" />
<rect x="482.2" y="516.8" width="3.2" height="3.2" fill="#000" stroke="none" stroke-width="0.6" />
<line x1="297.5" y1="445.5" x2="297.5" y2="457.6" stroke="#aaa" stroke-width="0.5" />
<line x1="296.5" y1="445.5" x2="298.5" y2="445.5" stroke="#aaa" stroke-width="0.5" />
<line x1="296.5" y1="457.6" x2="298.5" y2="457.6" stroke="#aaa" stroke-width="0.5" />
<circle cx="297.5" cy="451.6" r="1.7" fill="#555"/>
<line x1="334.8" y1="434.1" x2="334.8" y2="447.3" stroke="#aaa" stroke-width="0.5" />
<line x1="333.8" y1="434.1" x2="335.8" y2="434.1" stroke="#aaa" stroke-width="0.5" />
<line x1="333.8" y1="447.3" x2="335.8" y2="447.3" stroke="#aaa" stroke-width="0.5" />
<circle cx="334.8" cy="440.7" r="1.7" fill="#555"/>
<line x1="347.2" y1="441.9" x2="347.2" y2="452.8" stroke="#aaa" stroke-width="0.5" />
<line x1="346.2" y1="441.9" x2="348.2" y2="441.9" stroke="#aaa" stroke-width="0.5" />
<line x1="346.2" y1="452.8" x2="348.2" y2="452.8" stroke="#aaa" stroke-width="0.5" />
<circle cx="347.2" cy="447.3" r="1.7" fill="#555"/>
<line x1="359.6" y1="441.3" x2="359.6" y2="452.2" stroke="#aaa" stroke-width="0.5" />
<line x1="358.6" y1="441.3" x2="360.6" y2="441.3" stroke="#aaa" stroke-width="0.5" />
<line x1="358.6" y1="452.2" x2="360.6" y2="452.2" stroke="#aaa" stroke-width="0.5" />
<circle cx="359.6" cy="446.7" r="1.7" fill="#555"/>
<line x1="372.0" y1="445.5" x2="372.0" y2="449.1" stroke="#aaa" stroke-width="0.5" />
<line x1="371.0" y1="445.5" x2="373.0" y2="445.5" stroke="#aaa" stroke-width="0.5" />
<line x1="371.0" y1="449.1" x2="373.0" y2="449.1" stroke="#aaa" stroke-width="0.5" />
<circle cx="372.0" cy="447.3" r="1.7" fill="#555"/>
<line x1="396.9" y1="439.5" x2="396.9" y2="447.9" stroke="#aaa" stroke-width="0.5" />
<line x1="395.9" y1="439.5" x2="397.9" y2="439.5" stroke="#aaa" stroke-width="0.5" />
<line x1="395.9" y1="447.9" x2="397.9" y2="447.9" stroke="#aaa" stroke-width="0.5" />
<circle cx="396.9" cy="443.7" r="1.7" fill="#555"/>
<line x1="421.7" y1="450.3" x2="421.7" y2="455.2" stroke="#aaa" stroke-width="0.5" />
<line x1="420.7" y1="450.3" x2="422.7" y2="450.3" stroke="#aaa" stroke-width="0.5" />
<line x1="420.7" y1="455.2" x2="422.7" y2="455.2" stroke="#aaa" stroke-width="0.5" />
<circle cx="421.7" cy="452.8" r="1.7" fill="#555"/>
<line x1="483.8" y1="464.8" x2="483.8" y2="475.6" stroke="#aaa" stroke-width="0.5" />
<line x1="482.8" y1="464.8" x2="484.8" y2="464.8" stroke="#aaa" stroke-width="0.5" />
<line x1="482.8" y1="475.6" x2="484.8" y2="475.6" stroke="#aaa" stroke-width="0.5" />
<circle cx="483.8" cy="470.2" r="1.7" fill="#555"/>
<rect x="429.0" y="427.5" width="62.6" height="18.3" fill="#fff" stroke="#666" stroke-width="0.6" />
<line x1="435.2" y1="433.2" x2="450.5" y2="433.2" stroke="#888" stroke-width="0.6" />
<rect x="441.7" y="431.6" width="3.2" height="3.2" fill="#000" stroke="none" stroke-width="0.6" />
<line x1="435.2" y1="441.3" x2="450.5" y2="441.3" stroke="#888" stroke-width="0.6" />
<circle cx="443.3" cy="441.3" r="1.7" fill="#222"/>
<text x="452.8" y="435.7" font-size="6.7" text-anchor="start" fill="#111" stroke="#111" stroke-width="0.2">wt MEF</text>
<text x="452.8" y="443.9" font-size="6.7" text-anchor="start" fill="#111" stroke="#111" stroke-width="0.2">atg5<tspan font-size="4.5" dy="-2.8">–/–</tspan><tspan dy="2.8"> MEF</tspan></text>
<rect x="282.5" y="507.0" width="125.2" height="62.8" fill="#7a7a7a" stroke="none" stroke-width="0.6" />
<g clip-path="url(#insL)">
<rect x="282.5" y="506.3" width="62.7" height="63.5" fill="#7a7a7a" stroke="none" stroke-width="0.6" filter="url(#tex)"/>
</g>
<g clip-path="url(#insR)">
<rect x="345.2" y="506.3" width="62.5" height="63.5" fill="#7a7a7a" stroke="none" stroke-width="0.6" filter="url(#tex)" />
<g transform="rotate(-52 376 538)">
<rect x="320.0" y="480.0" width="112.0" height="116.0" fill="#7a7a7a" stroke="none" stroke-width="0.6" filter="url(#tex2)" opacity="0.55"/>
</g>
</g>
<g clip-path="url(#insclip)">
<ellipse cx="298.5" cy="528.5" rx="2.6" ry="2.4" fill="#8a8a8a" stroke="#c8c8c8" stroke-width="0.9" opacity="0.68" filter="url(#b05)"/>
<ellipse cx="299.1" cy="529.2" rx="3.3" ry="3.0999999999999996" fill="none" stroke="#444" stroke-width="0.7" opacity="0.45" filter="url(#b05)"/>
<ellipse cx="286.5" cy="536.5" rx="2.0" ry="1.8" fill="#8a8a8a" stroke="#c8c8c8" stroke-width="0.9" opacity="0.52" filter="url(#b05)"/>
<ellipse cx="287.1" cy="537.2" rx="2.7" ry="2.5" fill="none" stroke="#444" stroke-width="0.7" opacity="0.35" filter="url(#b05)"/>
<ellipse cx="307" cy="548" rx="2.6" ry="2.8" fill="#8a8a8a" stroke="#c8c8c8" stroke-width="0.9" opacity="0.75" filter="url(#b05)"/>
<ellipse cx="307.6" cy="548.7" rx="3.3" ry="3.5" fill="none" stroke="#444" stroke-width="0.7" opacity="0.50" filter="url(#b05)"/>
<ellipse cx="313.5" cy="545.5" rx="2.6" ry="2.4" fill="#8a8a8a" stroke="#c8c8c8" stroke-width="0.9" opacity="0.68" filter="url(#b05)"/>
<ellipse cx="314.1" cy="546.2" rx="3.3" ry="3.0999999999999996" fill="none" stroke="#444" stroke-width="0.7" opacity="0.45" filter="url(#b05)"/>
<ellipse cx="311" cy="553.5" rx="3.0" ry="2.2" fill="#8a8a8a" stroke="#c8c8c8" stroke-width="0.9" opacity="0.68" filter="url(#b05)"/>
<ellipse cx="311.6" cy="554.2" rx="3.7" ry="2.9000000000000004" fill="none" stroke="#444" stroke-width="0.7" opacity="0.45" filter="url(#b05)"/>
<ellipse cx="316" cy="551" rx="2.0" ry="2.0" fill="#8a8a8a" stroke="#c8c8c8" stroke-width="0.9" opacity="0.52" filter="url(#b05)"/>
<ellipse cx="316.6" cy="551.7" rx="2.7" ry="2.7" fill="none" stroke="#444" stroke-width="0.7" opacity="0.35" filter="url(#b05)"/>
<ellipse cx="333" cy="538.5" rx="2.2" ry="2.0" fill="#8a8a8a" stroke="#c8c8c8" stroke-width="0.9" opacity="0.45" filter="url(#b05)"/>
<ellipse cx="333.6" cy="539.2" rx="2.9000000000000004" ry="2.7" fill="none" stroke="#444" stroke-width="0.7" opacity="0.30" filter="url(#b05)"/>
<ellipse cx="395.5" cy="548.5" rx="2.4" ry="2.8" fill="#8a8a8a" stroke="#c8c8c8" stroke-width="0.9" opacity="0.90" filter="url(#b05)"/>
<ellipse cx="396.1" cy="549.2" rx="3.0999999999999996" ry="3.5" fill="none" stroke="#444" stroke-width="0.7" opacity="0.60" filter="url(#b05)"/>
<ellipse cx="387" cy="523" rx="2.0" ry="1.8" fill="#8a8a8a" stroke="#c8c8c8" stroke-width="0.9" opacity="0.30" filter="url(#b05)"/>
<ellipse cx="387.6" cy="523.7" rx="2.7" ry="2.5" fill="none" stroke="#444" stroke-width="0.7" opacity="0.20" filter="url(#b05)"/>
<ellipse cx="395" cy="531" rx="2.4" ry="2.0" fill="#8a8a8a" stroke="#c8c8c8" stroke-width="0.9" opacity="0.45" filter="url(#b05)"/>
<ellipse cx="395.6" cy="531.7" rx="3.0999999999999996" ry="2.7" fill="none" stroke="#444" stroke-width="0.7" opacity="0.30" filter="url(#b05)"/>
<ellipse cx="395.6" cy="548.6" rx="1.1" ry="1.4" fill="#eee" opacity="0.85" filter="url(#b05)"/>
</g>
<rect x="282.5" y="507.0" width="125.2" height="62.8" fill="none" stroke="#111" stroke-width="1.4" />
<line x1="345.3" y1="496.3" x2="345.3" y2="569.8" stroke="#000" stroke-width="1.8" />
<text x="342.6" y="504.0" font-size="7.4" text-anchor="end" fill="#111" font-style="italic" stroke="#111" stroke-width="0.2">wt MEF</text>
<text x="347.8" y="504.0" font-size="7.4" text-anchor="start" fill="#111" font-style="italic" stroke="#111" stroke-width="0.2">atg5<tspan font-size="4.8" dy="-2.8">–/–</tspan><tspan dy="2.8"> MEF</tspan></text>
<text x="410.0" y="522.0" font-size="5.1" text-anchor="start" fill="#222" transform="rotate(90 410.0 522.0)" stroke="#222" stroke-width="0.2">Magnifications 400X</text>
<path d="M321.5 588.8 V591.3 H373.5 M373.5 588 V594.6" stroke="#555" stroke-width="0.7" fill="none" />
<path d="M435.2 588 V594.6 M435.2 591.3 H496.3 V588.8" stroke="#555" stroke-width="0.7" fill="none" />
<text x="404.8" y="593.7" font-size="6.95" text-anchor="middle" fill="#222" stroke="#222" stroke-width="0.2">Leelamine (µmol/L)</text>
</g>
<rect x="0.5" y="0.5" width="519" height="607" fill="none" stroke="#555" stroke-width="1.2"/>
</svg>
</body></html>
